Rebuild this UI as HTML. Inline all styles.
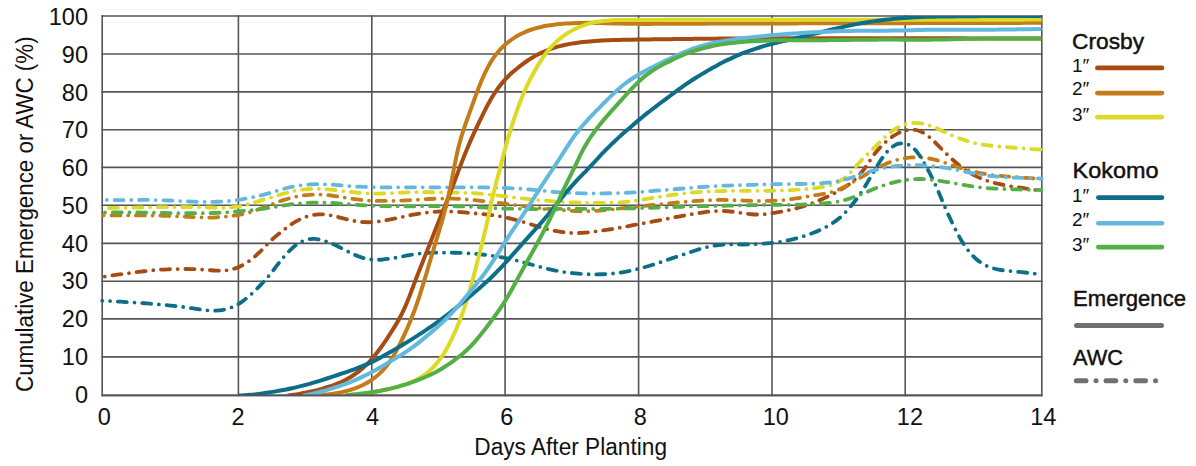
<!DOCTYPE html>
<html><head><meta charset="utf-8"><style>
html,body{margin:0;padding:0;background:#fff;}
body{width:1196px;height:466px;overflow:hidden;}
svg{display:block;}
</style></head><body>
<svg width="1196" height="466" viewBox="0 0 1196 466">
<rect width="1196" height="466" fill="#fff"/>
<g stroke="#555" stroke-width="1.6" stroke-linecap="square"><line x1="102.2" y1="395.40" x2="1041.8" y2="395.40"/><line x1="102.2" y1="356.90" x2="1041.8" y2="356.90"/><line x1="102.2" y1="318.90" x2="1041.8" y2="318.90"/><line x1="102.2" y1="281.20" x2="1041.8" y2="281.20"/><line x1="102.2" y1="243.40" x2="1041.8" y2="243.40"/><line x1="102.2" y1="205.30" x2="1041.8" y2="205.30"/><line x1="102.2" y1="167.40" x2="1041.8" y2="167.40"/><line x1="102.2" y1="129.70" x2="1041.8" y2="129.70"/><line x1="102.2" y1="91.90" x2="1041.8" y2="91.90"/><line x1="102.2" y1="54.00" x2="1041.8" y2="54.00"/><line x1="102.2" y1="16.00" x2="1041.8" y2="16.00"/><line x1="102.20" y1="16.00" x2="102.20" y2="395.40"/><line x1="238.40" y1="16.00" x2="238.40" y2="395.40"/><line x1="371.80" y1="16.00" x2="371.80" y2="395.40"/><line x1="505.10" y1="16.00" x2="505.10" y2="395.40"/><line x1="638.60" y1="16.00" x2="638.60" y2="395.40"/><line x1="772.00" y1="16.00" x2="772.00" y2="395.40"/><line x1="905.20" y1="16.00" x2="905.20" y2="395.40"/><line x1="1041.80" y1="16.00" x2="1041.80" y2="395.40"/></g><g fill="none" stroke-width="3.8" stroke-linecap="round" stroke-linejoin="round" stroke-dasharray="9.0 7.72 0 7.73"><path d="M102.20 277.00C103.19 276.84 106.15 276.33 108.14 276.02C110.12 275.70 112.10 275.40 114.09 275.11C116.07 274.82 118.06 274.55 120.05 274.29C122.04 274.02 124.03 273.76 126.02 273.51C128.01 273.25 130.00 273.00 131.99 272.74C133.98 272.49 135.98 272.23 137.97 271.98C139.96 271.74 141.95 271.49 143.94 271.25C145.94 271.02 147.93 270.79 149.93 270.59C151.92 270.39 153.92 270.20 155.92 270.04C157.92 269.89 159.93 269.75 161.93 269.64C163.93 269.52 165.94 269.43 167.94 269.35C169.95 269.26 171.95 269.20 173.96 269.15C175.97 269.10 177.97 269.06 179.98 269.04C181.99 269.01 183.99 269.00 186.00 269.01C188.01 269.02 190.02 269.03 192.02 269.08C194.03 269.13 196.03 269.20 198.04 269.30C200.04 269.40 202.04 269.54 204.05 269.68C206.05 269.82 208.05 270.02 210.05 270.16C212.05 270.31 214.05 270.48 216.06 270.56C218.06 270.64 220.07 270.70 222.07 270.63C224.08 270.55 226.09 270.41 228.07 270.11C230.05 269.80 232.03 269.38 233.94 268.81C235.86 268.24 237.75 267.52 239.57 266.69C241.40 265.87 243.16 264.89 244.88 263.86C246.60 262.83 248.26 261.68 249.88 260.50C251.49 259.32 253.07 258.06 254.59 256.76C256.12 255.46 257.60 254.10 259.04 252.70C260.49 251.31 261.87 249.86 263.27 248.41C264.66 246.97 266.01 245.49 267.43 244.06C268.84 242.64 270.26 241.22 271.73 239.86C273.20 238.49 274.72 237.17 276.25 235.88C277.78 234.58 279.35 233.33 280.92 232.08C282.50 230.84 284.08 229.61 285.69 228.41C287.30 227.21 288.92 226.02 290.58 224.89C292.24 223.77 293.92 222.67 295.66 221.66C297.39 220.65 299.17 219.70 300.99 218.86C302.80 218.02 304.67 217.25 306.57 216.63C308.48 216.00 310.43 215.48 312.39 215.10C314.36 214.73 316.37 214.48 318.37 214.38C320.36 214.27 322.39 214.32 324.38 214.47C326.38 214.61 328.37 214.91 330.35 215.26C332.32 215.61 334.28 216.08 336.23 216.55C338.18 217.02 340.11 217.57 342.05 218.08C343.99 218.58 345.93 219.12 347.88 219.59C349.83 220.06 351.79 220.52 353.76 220.89C355.73 221.25 357.72 221.57 359.71 221.79C361.70 222.01 363.71 222.16 365.71 222.21C367.72 222.27 369.73 222.23 371.73 222.13C373.73 222.02 375.73 221.82 377.73 221.59C379.72 221.35 381.70 221.03 383.68 220.70C385.66 220.37 387.63 219.99 389.60 219.61C391.57 219.24 393.54 218.83 395.51 218.43C397.47 218.02 399.43 217.59 401.39 217.17C403.36 216.75 405.31 216.30 407.28 215.88C409.24 215.46 411.20 215.04 413.17 214.66C415.14 214.28 417.11 213.91 419.10 213.59C421.08 213.27 423.06 212.99 425.06 212.75C427.05 212.50 429.05 212.30 431.04 212.12C433.04 211.95 435.05 211.81 437.05 211.70C439.05 211.60 441.06 211.51 443.07 211.48C445.07 211.44 447.08 211.43 449.09 211.48C451.09 211.52 453.10 211.61 455.10 211.72C457.11 211.84 459.11 212.00 461.11 212.17C463.11 212.34 465.10 212.53 467.10 212.71C469.10 212.90 471.10 213.09 473.10 213.27C475.10 213.45 477.10 213.62 479.09 213.81C481.09 213.99 483.09 214.15 485.09 214.36C487.09 214.56 489.08 214.76 491.07 215.01C493.07 215.26 495.06 215.53 497.04 215.84C499.02 216.16 501.00 216.50 502.97 216.89C504.94 217.27 506.90 217.69 508.85 218.14C510.81 218.60 512.76 219.08 514.70 219.59C516.64 220.10 518.57 220.64 520.50 221.19C522.43 221.75 524.35 222.33 526.27 222.91C528.19 223.49 530.11 224.09 532.02 224.69C533.94 225.28 535.85 225.89 537.77 226.48C539.69 227.06 541.61 227.65 543.55 228.19C545.48 228.72 547.42 229.24 549.37 229.70C551.32 230.17 553.29 230.58 555.26 230.95C557.23 231.33 559.22 231.65 561.20 231.93C563.19 232.21 565.18 232.45 567.18 232.63C569.18 232.81 571.18 232.95 573.19 233.01C575.19 233.07 577.20 233.07 579.21 233.00C581.21 232.94 583.22 232.79 585.22 232.62C587.22 232.45 589.21 232.22 591.20 231.98C593.20 231.75 595.19 231.49 597.18 231.22C599.17 230.96 601.15 230.68 603.14 230.39C605.13 230.11 607.11 229.81 609.09 229.50C611.07 229.18 613.06 228.86 615.03 228.52C617.01 228.19 618.99 227.84 620.96 227.48C622.94 227.12 624.91 226.75 626.88 226.37C628.85 226.00 630.82 225.61 632.79 225.23C634.76 224.85 636.73 224.47 638.71 224.10C640.68 223.73 642.65 223.37 644.63 223.02C646.60 222.66 648.58 222.32 650.56 221.97C652.54 221.62 654.51 221.28 656.49 220.92C658.46 220.55 660.43 220.17 662.40 219.78C664.37 219.40 666.33 218.98 668.30 218.59C670.27 218.19 672.23 217.78 674.20 217.39C676.17 217.00 678.14 216.62 680.11 216.26C682.09 215.89 684.06 215.54 686.04 215.19C688.02 214.85 690.00 214.51 691.98 214.18C693.96 213.86 695.94 213.53 697.92 213.22C699.90 212.91 701.88 212.59 703.87 212.32C705.86 212.04 707.85 211.77 709.84 211.56C711.84 211.35 713.84 211.17 715.84 211.07C717.85 210.97 719.86 210.93 721.86 210.96C723.87 210.99 725.88 211.10 727.88 211.25C729.88 211.40 731.87 211.63 733.86 211.88C735.85 212.12 737.84 212.44 739.82 212.72C741.81 213.01 743.79 213.33 745.78 213.59C747.77 213.85 749.77 214.11 751.76 214.26C753.76 214.40 755.77 214.49 757.78 214.49C759.78 214.48 761.79 214.39 763.79 214.24C765.79 214.09 767.79 213.85 769.78 213.59C771.77 213.33 773.75 213.02 775.73 212.69C777.71 212.36 779.68 211.99 781.65 211.61C783.62 211.22 785.59 210.82 787.55 210.39C789.51 209.96 791.47 209.51 793.41 209.03C795.36 208.55 797.31 208.05 799.24 207.50C801.17 206.96 803.09 206.38 805.00 205.76C806.91 205.15 808.81 204.49 810.69 203.80C812.58 203.11 814.45 202.39 816.31 201.64C818.17 200.89 820.02 200.11 821.86 199.31C823.70 198.50 825.53 197.67 827.34 196.82C829.16 195.96 830.96 195.08 832.75 194.16C834.53 193.24 836.31 192.30 838.06 191.32C839.80 190.33 841.54 189.32 843.24 188.25C844.93 187.18 846.61 186.08 848.24 184.90C849.86 183.73 851.46 182.50 852.98 181.19C854.50 179.89 855.97 178.51 857.36 177.07C858.76 175.64 860.09 174.12 861.37 172.58C862.64 171.03 863.84 169.42 865.02 167.79C866.20 166.17 867.31 164.50 868.44 162.84C869.57 161.18 870.65 159.49 871.81 157.85C872.96 156.20 874.11 154.55 875.34 152.97C876.58 151.39 877.87 149.85 879.21 148.36C880.56 146.88 881.96 145.43 883.41 144.05C884.86 142.66 886.36 141.32 887.91 140.05C889.46 138.79 891.06 137.56 892.73 136.44C894.39 135.33 896.11 134.27 897.90 133.37C899.69 132.47 901.55 131.66 903.45 131.06C905.36 130.47 907.35 129.99 909.33 129.81C911.31 129.62 913.38 129.63 915.33 129.94C917.29 130.25 919.26 130.87 921.08 131.66C922.91 132.45 924.64 133.54 926.28 134.67C927.93 135.81 929.46 137.14 930.96 138.46C932.47 139.78 933.90 141.19 935.34 142.60C936.77 144.00 938.15 145.46 939.56 146.89C940.96 148.32 942.35 149.77 943.77 151.19C945.19 152.61 946.63 154.01 948.08 155.39C949.53 156.78 950.99 158.16 952.47 159.51C953.95 160.87 955.44 162.22 956.96 163.52C958.49 164.83 960.02 166.12 961.62 167.34C963.22 168.55 964.86 169.71 966.54 170.81C968.22 171.90 969.95 172.93 971.70 173.90C973.45 174.88 975.25 175.79 977.06 176.64C978.87 177.50 980.72 178.30 982.58 179.04C984.45 179.78 986.33 180.47 988.24 181.10C990.14 181.73 992.07 182.30 994.01 182.82C995.94 183.34 997.90 183.81 999.86 184.23C1001.82 184.66 1003.79 185.04 1005.77 185.40C1007.74 185.76 1009.72 186.08 1011.70 186.40C1013.68 186.72 1015.67 187.02 1017.65 187.32C1019.64 187.63 1021.62 187.94 1023.60 188.24C1025.59 188.55 1027.57 188.87 1029.55 189.15C1031.54 189.44 1033.53 189.74 1035.52 189.96C1037.51 190.19 1040.52 190.42 1041.52 190.51" stroke="#A64B12" stroke-dashoffset="14.10"/><path d="M102.20 215.40C103.20 215.40 106.20 215.40 108.20 215.40C110.21 215.40 112.21 215.40 114.21 215.40C116.22 215.39 118.22 215.39 120.22 215.38C122.22 215.38 124.23 215.38 126.23 215.38C128.23 215.38 130.24 215.38 132.24 215.38C134.24 215.38 136.24 215.39 138.25 215.40C140.25 215.41 142.25 215.42 144.26 215.44C146.26 215.45 148.26 215.48 150.26 215.50C152.27 215.53 154.27 215.57 156.27 215.61C158.27 215.65 160.28 215.70 162.28 215.76C164.28 215.81 166.28 215.88 168.28 215.95C170.29 216.02 172.29 216.10 174.29 216.18C176.29 216.27 178.29 216.36 180.29 216.45C182.29 216.55 184.29 216.65 186.29 216.76C188.29 216.86 190.29 216.97 192.29 217.07C194.29 217.17 196.29 217.28 198.29 217.36C200.29 217.43 202.30 217.51 204.30 217.54C206.30 217.57 208.31 217.58 210.31 217.55C212.31 217.52 214.31 217.45 216.31 217.34C218.31 217.23 220.31 217.09 222.30 216.91C224.30 216.74 226.29 216.53 228.28 216.29C230.27 216.06 232.26 215.81 234.24 215.51C236.22 215.22 238.20 214.91 240.17 214.54C242.13 214.17 244.10 213.77 246.04 213.29C247.99 212.81 249.92 212.27 251.83 211.67C253.74 211.08 255.63 210.41 257.51 209.73C259.40 209.05 261.26 208.32 263.13 207.60C265.00 206.88 266.86 206.14 268.73 205.42C270.60 204.70 272.47 203.97 274.34 203.27C276.22 202.58 278.10 201.88 279.99 201.23C281.89 200.57 283.79 199.94 285.70 199.35C287.62 198.77 289.54 198.21 291.48 197.72C293.42 197.23 295.38 196.77 297.34 196.39C299.31 196.00 301.28 195.67 303.27 195.40C305.25 195.13 307.25 194.92 309.24 194.77C311.24 194.62 313.24 194.53 315.24 194.50C317.25 194.48 319.25 194.52 321.25 194.61C323.25 194.71 325.25 194.87 327.24 195.07C329.23 195.28 331.22 195.54 333.20 195.82C335.19 196.09 337.16 196.41 339.14 196.72C341.12 197.03 343.10 197.36 345.08 197.67C347.05 197.98 349.03 198.28 351.02 198.57C353.00 198.85 354.98 199.13 356.97 199.38C358.96 199.63 360.95 199.87 362.94 200.07C364.93 200.27 366.93 200.45 368.92 200.58C370.92 200.71 372.93 200.79 374.93 200.84C376.93 200.90 378.93 200.92 380.94 200.93C382.94 200.93 384.94 200.92 386.94 200.90C388.95 200.88 390.95 200.85 392.95 200.81C394.95 200.76 396.96 200.70 398.96 200.63C400.96 200.55 402.96 200.46 404.96 200.37C406.96 200.27 408.96 200.16 410.96 200.05C412.96 199.94 414.96 199.82 416.96 199.70C418.96 199.59 420.96 199.46 422.96 199.35C424.96 199.24 426.96 199.12 428.96 199.02C430.96 198.92 432.96 198.82 434.96 198.74C436.96 198.67 438.96 198.60 440.96 198.56C442.97 198.53 444.97 198.51 446.97 198.52C448.98 198.54 450.98 198.58 452.98 198.64C454.98 198.71 456.98 198.81 458.98 198.93C460.98 199.05 462.98 199.19 464.97 199.35C466.97 199.51 468.97 199.69 470.96 199.87C472.95 200.06 474.95 200.26 476.94 200.46C478.93 200.67 480.92 200.89 482.91 201.11C484.91 201.33 486.90 201.55 488.88 201.78C490.87 202.02 492.86 202.25 494.85 202.49C496.84 202.73 498.83 202.98 500.82 203.22C502.80 203.47 504.79 203.72 506.78 203.97C508.76 204.22 510.75 204.48 512.74 204.74C514.72 204.99 516.71 205.26 518.69 205.52C520.68 205.78 522.67 206.04 524.65 206.29C526.64 206.55 528.63 206.81 530.61 207.05C532.60 207.29 534.59 207.53 536.58 207.75C538.57 207.97 540.56 208.18 542.56 208.38C544.55 208.58 546.54 208.76 548.54 208.93C550.53 209.11 552.53 209.27 554.53 209.44C556.52 209.61 558.52 209.78 560.51 209.94C562.51 210.11 564.50 210.29 566.50 210.44C568.50 210.60 570.49 210.76 572.49 210.88C574.49 211.00 576.49 211.11 578.49 211.18C580.50 211.25 582.50 211.28 584.50 211.28C586.50 211.27 588.51 211.23 590.51 211.16C592.51 211.09 594.51 210.98 596.51 210.85C598.51 210.72 600.51 210.57 602.50 210.39C604.50 210.22 606.49 210.02 608.48 209.82C610.47 209.61 612.46 209.39 614.45 209.16C616.44 208.94 618.43 208.70 620.42 208.47C622.41 208.24 624.40 208.01 626.39 207.78C628.38 207.55 630.37 207.33 632.36 207.12C634.35 206.90 636.35 206.69 638.34 206.48C640.33 206.28 642.32 206.07 644.32 205.87C646.31 205.67 648.30 205.46 650.29 205.26C652.29 205.05 654.28 204.85 656.27 204.64C658.26 204.43 660.25 204.22 662.25 204.02C664.24 203.81 666.23 203.60 668.22 203.40C670.22 203.20 672.21 203.00 674.20 202.80C676.19 202.61 678.19 202.42 680.18 202.23C682.18 202.05 684.17 201.87 686.17 201.70C688.16 201.54 690.16 201.37 692.16 201.22C694.15 201.07 696.15 200.92 698.15 200.79C700.15 200.66 702.15 200.53 704.15 200.43C706.15 200.32 708.15 200.23 710.15 200.15C712.15 200.08 714.15 200.02 716.16 199.99C718.16 199.96 720.16 199.95 722.16 199.95C724.17 199.96 726.17 200.00 728.17 200.04C730.17 200.09 732.18 200.16 734.18 200.22C736.18 200.29 738.18 200.37 740.18 200.44C742.18 200.52 744.19 200.60 746.19 200.66C748.19 200.73 750.19 200.79 752.19 200.84C754.20 200.89 756.20 200.93 758.20 200.95C760.20 200.97 762.21 200.97 764.21 200.95C766.21 200.93 768.21 200.90 770.22 200.83C772.22 200.77 774.22 200.68 776.22 200.57C778.22 200.45 780.22 200.31 782.21 200.14C784.21 199.96 786.20 199.76 788.19 199.52C790.18 199.28 792.16 199.01 794.14 198.72C796.12 198.42 798.10 198.09 800.08 197.77C802.05 197.44 804.02 197.08 806.00 196.75C807.97 196.41 809.95 196.08 811.92 195.76C813.90 195.43 815.88 195.14 817.86 194.82C819.84 194.50 821.82 194.21 823.79 193.84C825.75 193.47 827.72 193.08 829.66 192.59C831.60 192.09 833.53 191.53 835.42 190.87C837.30 190.20 839.16 189.43 840.98 188.60C842.80 187.77 844.58 186.84 846.34 185.90C848.11 184.95 849.84 183.94 851.57 182.93C853.30 181.92 855.01 180.88 856.73 179.85C858.44 178.82 860.15 177.77 861.88 176.76C863.60 175.74 865.34 174.73 867.08 173.75C868.83 172.77 870.59 171.81 872.35 170.86C874.11 169.91 875.89 168.98 877.66 168.06C879.44 167.14 881.21 166.20 883.01 165.32C884.81 164.45 886.62 163.57 888.47 162.80C890.31 162.03 892.19 161.31 894.09 160.70C896.00 160.09 897.94 159.57 899.89 159.13C901.84 158.69 903.82 158.33 905.80 158.05C907.78 157.77 909.78 157.57 911.78 157.45C913.77 157.34 915.78 157.30 917.78 157.35C919.78 157.40 921.79 157.54 923.78 157.76C925.77 157.97 927.75 158.28 929.72 158.64C931.69 159.01 933.64 159.46 935.58 159.95C937.52 160.44 939.45 161.00 941.36 161.59C943.28 162.17 945.18 162.81 947.07 163.45C948.97 164.08 950.86 164.75 952.76 165.39C954.66 166.03 956.55 166.68 958.46 167.29C960.37 167.90 962.28 168.50 964.20 169.05C966.13 169.61 968.06 170.14 970.00 170.63C971.94 171.13 973.89 171.60 975.84 172.05C977.79 172.49 979.75 172.91 981.72 173.29C983.68 173.68 985.66 174.03 987.63 174.35C989.61 174.66 991.60 174.94 993.58 175.19C995.57 175.44 997.56 175.65 999.55 175.85C1001.55 176.05 1003.54 176.22 1005.54 176.39C1007.53 176.56 1009.53 176.71 1011.53 176.87C1013.52 177.02 1015.52 177.17 1017.52 177.32C1019.52 177.46 1021.52 177.61 1023.51 177.74C1025.51 177.88 1027.51 178.02 1029.51 178.15C1031.51 178.28 1033.51 178.40 1035.50 178.53C1037.50 178.66 1040.50 178.84 1041.50 178.90" stroke="#C47C18" stroke-dashoffset="15.20"/><path d="M102.19 208.00C103.20 208.00 106.21 208.02 108.22 208.01C110.23 208.00 112.24 207.98 114.25 207.95C116.25 207.92 118.26 207.88 120.27 207.84C122.28 207.81 124.29 207.76 126.29 207.72C128.30 207.68 130.31 207.64 132.32 207.60C134.33 207.56 136.33 207.53 138.34 207.49C140.35 207.46 142.36 207.43 144.37 207.40C146.38 207.37 148.38 207.34 150.39 207.31C152.40 207.29 154.41 207.26 156.42 207.24C158.43 207.21 160.43 207.19 162.44 207.17C164.45 207.14 166.46 207.12 168.47 207.10C170.48 207.07 172.49 207.05 174.49 207.04C176.50 207.03 178.51 207.01 180.52 207.01C182.53 207.01 184.54 207.01 186.54 207.03C188.55 207.04 190.56 207.06 192.57 207.09C194.58 207.11 196.59 207.15 198.59 207.19C200.60 207.23 202.61 207.28 204.62 207.33C206.63 207.38 208.63 207.44 210.64 207.49C212.65 207.54 214.66 207.59 216.67 207.62C218.67 207.65 220.68 207.68 222.69 207.65C224.70 207.63 226.71 207.58 228.71 207.47C230.72 207.36 232.72 207.21 234.72 206.98C236.71 206.75 238.70 206.45 240.68 206.09C242.65 205.72 244.61 205.26 246.55 204.77C248.50 204.27 250.42 203.68 252.35 203.11C254.27 202.54 256.18 201.92 258.10 201.33C260.02 200.74 261.94 200.15 263.87 199.57C265.79 199.00 267.72 198.43 269.64 197.86C271.57 197.29 273.50 196.72 275.42 196.14C277.34 195.57 279.26 194.97 281.19 194.40C283.11 193.83 285.03 193.24 286.97 192.71C288.91 192.19 290.85 191.67 292.81 191.24C294.77 190.81 296.75 190.44 298.74 190.13C300.72 189.82 302.72 189.58 304.71 189.39C306.71 189.20 308.72 189.07 310.73 188.99C312.73 188.90 314.74 188.87 316.75 188.88C318.76 188.90 320.77 188.97 322.77 189.07C324.78 189.17 326.78 189.32 328.78 189.48C330.78 189.65 332.78 189.85 334.78 190.06C336.78 190.27 338.77 190.50 340.77 190.74C342.76 190.97 344.75 191.23 346.75 191.47C348.74 191.71 350.74 191.96 352.73 192.18C354.73 192.40 356.73 192.62 358.73 192.80C360.73 192.98 362.73 193.15 364.73 193.28C366.74 193.40 368.74 193.50 370.75 193.56C372.76 193.63 374.77 193.65 376.78 193.64C378.78 193.64 380.79 193.59 382.80 193.52C384.81 193.46 386.81 193.35 388.82 193.25C390.82 193.14 392.83 193.01 394.83 192.90C396.84 192.79 398.84 192.67 400.85 192.57C402.86 192.48 404.86 192.40 406.87 192.35C408.88 192.29 410.89 192.25 412.90 192.22C414.90 192.19 416.91 192.18 418.92 192.18C420.93 192.17 422.94 192.18 424.95 192.19C426.96 192.19 428.96 192.21 430.97 192.23C432.98 192.25 434.99 192.27 437.00 192.29C439.01 192.32 441.01 192.34 443.02 192.37C445.03 192.40 447.04 192.43 449.05 192.47C451.06 192.50 453.06 192.53 455.07 192.57C457.08 192.62 459.09 192.66 461.10 192.72C463.10 192.78 465.11 192.84 467.12 192.92C469.12 193.01 471.13 193.10 473.14 193.22C475.14 193.34 477.15 193.48 479.15 193.63C481.15 193.79 483.15 193.96 485.15 194.15C487.15 194.34 489.15 194.55 491.15 194.76C493.14 194.97 495.14 195.20 497.13 195.43C499.13 195.65 501.12 195.89 503.12 196.13C505.11 196.36 507.11 196.61 509.10 196.84C511.10 197.08 513.09 197.32 515.08 197.56C517.08 197.79 519.07 198.02 521.07 198.25C523.07 198.48 525.06 198.70 527.06 198.91C529.06 199.12 531.05 199.33 533.05 199.53C535.05 199.73 537.05 199.92 539.05 200.10C541.05 200.28 543.05 200.46 545.05 200.62C547.06 200.79 549.06 200.94 551.06 201.09C553.06 201.24 555.07 201.38 557.07 201.52C559.08 201.65 561.08 201.78 563.09 201.90C565.09 202.01 567.10 202.12 569.10 202.22C571.11 202.33 573.11 202.42 575.12 202.50C577.13 202.58 579.14 202.66 581.14 202.72C583.15 202.78 585.16 202.83 587.17 202.87C589.17 202.91 591.18 202.93 593.19 202.95C595.20 202.96 597.21 202.97 599.22 202.96C601.23 202.95 603.23 202.92 605.24 202.89C607.25 202.85 609.26 202.80 611.27 202.74C613.27 202.67 615.28 202.59 617.29 202.48C619.29 202.37 621.30 202.25 623.30 202.09C625.30 201.93 627.30 201.74 629.30 201.52C631.29 201.30 633.28 201.04 635.27 200.76C637.26 200.48 639.25 200.16 641.23 199.85C643.21 199.53 645.19 199.20 647.18 198.87C649.16 198.54 651.14 198.21 653.12 197.88C655.10 197.56 657.08 197.23 659.07 196.91C661.05 196.60 663.03 196.28 665.02 195.98C667.00 195.67 668.99 195.37 670.98 195.08C672.97 194.80 674.96 194.52 676.95 194.25C678.94 193.99 680.93 193.73 682.92 193.50C684.92 193.26 686.92 193.04 688.91 192.84C690.91 192.64 692.91 192.46 694.91 192.30C696.92 192.13 698.92 191.99 700.93 191.87C702.93 191.74 704.94 191.63 706.94 191.54C708.95 191.44 710.95 191.37 712.96 191.29C714.97 191.22 716.98 191.17 718.98 191.11C720.99 191.06 723.00 191.02 725.01 190.98C727.02 190.95 729.03 190.92 731.03 190.89C733.04 190.87 735.05 190.85 737.06 190.84C739.07 190.82 741.08 190.82 743.08 190.82C745.09 190.81 747.10 190.82 749.11 190.82C751.12 190.82 753.13 190.83 755.14 190.83C757.14 190.83 759.15 190.84 761.16 190.83C763.17 190.82 765.18 190.81 767.19 190.79C769.20 190.77 771.20 190.74 773.21 190.70C775.22 190.66 777.23 190.61 779.24 190.55C781.24 190.49 783.25 190.42 785.26 190.34C787.26 190.26 789.27 190.16 791.28 190.06C793.28 189.95 795.29 189.84 797.29 189.70C799.30 189.57 801.30 189.43 803.30 189.27C805.30 189.11 807.30 188.93 809.30 188.73C811.30 188.53 813.30 188.32 815.29 188.07C817.28 187.81 819.28 187.55 821.26 187.21C823.23 186.87 825.22 186.51 827.16 186.02C829.11 185.54 831.05 184.99 832.93 184.30C834.81 183.60 836.67 182.80 838.44 181.86C840.21 180.93 841.93 179.86 843.55 178.68C845.17 177.51 846.71 176.19 848.17 174.83C849.64 173.46 850.99 171.96 852.34 170.47C853.69 168.99 854.95 167.43 856.28 165.92C857.61 164.41 858.93 162.90 860.31 161.44C861.68 159.97 863.11 158.56 864.54 157.15C865.97 155.74 867.45 154.37 868.89 152.98C870.33 151.58 871.78 150.19 873.21 148.77C874.63 147.36 876.03 145.92 877.45 144.49C878.86 143.07 880.26 141.62 881.70 140.22C883.13 138.82 884.58 137.42 886.08 136.09C887.58 134.75 889.10 133.44 890.69 132.21C892.28 130.99 893.91 129.79 895.61 128.74C897.32 127.69 899.08 126.69 900.92 125.89C902.75 125.09 904.67 124.42 906.61 123.94C908.55 123.47 910.57 123.17 912.56 123.04C914.56 122.92 916.59 122.99 918.58 123.18C920.57 123.36 922.56 123.73 924.52 124.17C926.47 124.61 928.41 125.19 930.31 125.82C932.21 126.46 934.08 127.20 935.94 127.98C937.79 128.75 939.60 129.62 941.42 130.46C943.25 131.31 945.04 132.20 946.87 133.04C948.70 133.88 950.53 134.70 952.38 135.48C954.23 136.26 956.09 137.02 957.97 137.73C959.84 138.45 961.73 139.15 963.63 139.80C965.53 140.45 967.44 141.07 969.37 141.63C971.29 142.19 973.24 142.71 975.19 143.16C977.15 143.61 979.12 143.99 981.10 144.34C983.08 144.68 985.07 144.95 987.06 145.22C989.05 145.48 991.05 145.69 993.05 145.91C995.05 146.12 997.05 146.31 999.05 146.49C1001.05 146.68 1003.05 146.85 1005.05 147.01C1007.05 147.18 1009.05 147.34 1011.05 147.50C1013.06 147.66 1015.06 147.82 1017.06 147.97C1019.06 148.13 1021.07 148.28 1023.07 148.42C1025.07 148.57 1027.08 148.72 1029.08 148.86C1031.08 149.01 1033.09 149.15 1035.09 149.29C1037.09 149.43 1040.10 149.63 1041.10 149.70" stroke="#DCDA26" stroke-dashoffset="17.70"/><path d="M102.19 300.80C103.19 300.84 106.20 300.93 108.20 301.02C110.20 301.12 112.20 301.23 114.20 301.35C116.21 301.47 118.21 301.59 120.21 301.72C122.21 301.84 124.21 301.97 126.21 302.09C128.21 302.21 130.21 302.34 132.21 302.46C134.21 302.59 136.22 302.71 138.22 302.84C140.22 302.97 142.22 303.10 144.22 303.25C146.22 303.39 148.21 303.55 150.21 303.71C152.21 303.87 154.21 304.05 156.20 304.23C158.20 304.40 160.20 304.59 162.19 304.78C164.19 304.96 166.19 305.15 168.18 305.35C170.18 305.54 172.17 305.74 174.16 305.95C176.16 306.16 178.15 306.37 180.14 306.61C182.13 306.85 184.12 307.10 186.11 307.37C188.09 307.64 190.08 307.94 192.06 308.23C194.04 308.53 196.02 308.85 198.00 309.14C199.99 309.43 201.97 309.74 203.96 309.97C205.95 310.20 207.95 310.42 209.95 310.53C211.95 310.63 213.96 310.69 215.96 310.61C217.96 310.53 219.97 310.36 221.95 310.05C223.92 309.74 225.89 309.31 227.81 308.74C229.73 308.17 231.61 307.45 233.44 306.63C235.26 305.81 237.03 304.84 238.75 303.81C240.46 302.78 242.11 301.63 243.73 300.44C245.34 299.26 246.90 297.99 248.43 296.70C249.96 295.41 251.45 294.06 252.91 292.69C254.38 291.32 255.80 289.91 257.22 288.49C258.63 287.07 260.02 285.62 261.40 284.16C262.77 282.71 264.13 281.23 265.46 279.74C266.80 278.24 268.12 276.73 269.39 275.18C270.67 273.64 271.90 272.06 273.13 270.47C274.37 268.89 275.55 267.28 276.78 265.69C278.00 264.10 279.21 262.50 280.47 260.94C281.72 259.38 283.00 257.83 284.33 256.33C285.65 254.82 287.00 253.34 288.41 251.91C289.82 250.48 291.25 249.08 292.76 247.76C294.27 246.45 295.82 245.15 297.48 244.03C299.13 242.92 300.87 241.86 302.70 241.07C304.52 240.28 306.47 239.65 308.43 239.29C310.38 238.93 312.43 238.83 314.42 238.91C316.41 238.98 318.41 239.31 320.37 239.72C322.32 240.13 324.25 240.73 326.15 241.37C328.05 242.00 329.91 242.75 331.76 243.53C333.61 244.31 335.42 245.16 337.23 246.03C339.03 246.90 340.81 247.82 342.60 248.74C344.38 249.65 346.15 250.61 347.93 251.52C349.72 252.43 351.50 253.36 353.32 254.20C355.14 255.03 356.97 255.86 358.85 256.56C360.72 257.25 362.64 257.88 364.58 258.36C366.52 258.84 368.51 259.20 370.49 259.44C372.48 259.68 374.49 259.77 376.49 259.79C378.49 259.81 380.50 259.69 382.50 259.54C384.50 259.39 386.49 259.14 388.48 258.87C390.46 258.60 392.44 258.27 394.42 257.93C396.39 257.59 398.36 257.21 400.33 256.83C402.30 256.46 404.26 256.06 406.23 255.69C408.20 255.32 410.17 254.95 412.15 254.62C414.13 254.30 416.11 254.00 418.10 253.75C420.09 253.51 422.09 253.30 424.09 253.15C426.08 252.99 428.09 252.89 430.09 252.81C432.09 252.73 434.10 252.70 436.10 252.68C438.11 252.65 440.11 252.65 442.12 252.65C444.12 252.65 446.13 252.66 448.13 252.68C450.14 252.70 452.14 252.72 454.15 252.76C456.15 252.81 458.15 252.86 460.16 252.93C462.16 253.01 464.16 253.10 466.16 253.21C468.17 253.32 470.17 253.45 472.17 253.60C474.16 253.76 476.16 253.93 478.16 254.12C480.15 254.31 482.15 254.52 484.14 254.76C486.13 254.99 488.12 255.24 490.11 255.50C492.09 255.77 494.08 256.06 496.06 256.37C498.04 256.67 500.02 257.00 501.99 257.35C503.96 257.71 505.93 258.09 507.89 258.51C509.85 258.92 511.81 259.37 513.75 259.85C515.70 260.32 517.64 260.84 519.58 261.35C521.52 261.86 523.45 262.39 525.38 262.92C527.32 263.45 529.25 263.98 531.19 264.50C533.12 265.03 535.06 265.55 537.00 266.06C538.93 266.57 540.87 267.09 542.81 267.58C544.76 268.08 546.70 268.57 548.65 269.03C550.60 269.48 552.56 269.93 554.52 270.33C556.49 270.73 558.46 271.10 560.43 271.43C562.41 271.77 564.40 272.06 566.38 272.33C568.37 272.60 570.36 272.83 572.35 273.05C574.35 273.26 576.34 273.44 578.34 273.60C580.34 273.77 582.34 273.91 584.34 274.02C586.34 274.13 588.35 274.23 590.35 274.29C592.35 274.35 594.36 274.38 596.36 274.37C598.37 274.37 600.37 274.33 602.37 274.25C604.38 274.18 606.38 274.06 608.38 273.91C610.38 273.76 612.37 273.58 614.37 273.35C616.36 273.12 618.35 272.86 620.33 272.56C622.31 272.26 624.29 271.93 626.26 271.56C628.23 271.19 630.19 270.79 632.15 270.36C634.11 269.93 636.06 269.47 638.01 268.99C639.95 268.50 641.89 267.99 643.82 267.46C645.76 266.92 647.68 266.36 649.60 265.78C651.52 265.20 653.43 264.59 655.33 263.97C657.24 263.35 659.14 262.70 661.03 262.05C662.93 261.41 664.83 260.75 666.72 260.10C668.62 259.45 670.52 258.80 672.41 258.16C674.31 257.52 676.22 256.89 678.12 256.25C680.02 255.62 681.92 254.99 683.82 254.35C685.72 253.71 687.62 253.07 689.52 252.43C691.42 251.79 693.32 251.13 695.22 250.51C697.13 249.88 699.03 249.25 700.95 248.69C702.88 248.12 704.81 247.57 706.75 247.10C708.70 246.63 710.67 246.21 712.64 245.86C714.61 245.52 716.60 245.24 718.59 245.02C720.58 244.81 722.59 244.67 724.59 244.57C726.59 244.47 728.60 244.45 730.60 244.43C732.61 244.41 734.61 244.44 736.62 244.45C738.62 244.46 740.62 244.49 742.63 244.49C744.63 244.49 746.64 244.48 748.64 244.44C750.65 244.40 752.65 244.34 754.65 244.25C756.66 244.16 758.66 244.05 760.66 243.91C762.66 243.76 764.66 243.60 766.65 243.41C768.65 243.22 770.64 243.01 772.63 242.77C774.62 242.53 776.61 242.28 778.60 241.99C780.58 241.70 782.56 241.38 784.53 241.02C786.50 240.66 788.47 240.26 790.42 239.83C792.38 239.39 794.33 238.91 796.27 238.39C798.20 237.88 800.13 237.32 802.04 236.73C803.96 236.14 805.86 235.51 807.76 234.85C809.65 234.18 811.53 233.48 813.39 232.75C815.25 232.01 817.11 231.24 818.94 230.42C820.77 229.60 822.58 228.75 824.37 227.84C826.15 226.93 827.92 225.97 829.64 224.95C831.37 223.93 833.07 222.85 834.70 221.70C836.34 220.54 837.93 219.31 839.45 218.02C840.98 216.72 842.44 215.34 843.86 213.92C845.28 212.51 846.63 211.03 847.97 209.54C849.30 208.04 850.59 206.51 851.87 204.96C853.14 203.41 854.39 201.84 855.61 200.25C856.83 198.66 858.04 197.06 859.20 195.42C860.36 193.79 861.49 192.13 862.58 190.45C863.66 188.76 864.68 187.04 865.71 185.31C866.73 183.59 867.72 181.85 868.73 180.12C869.74 178.38 870.74 176.64 871.75 174.92C872.77 173.19 873.80 171.47 874.83 169.75C875.86 168.03 876.89 166.31 877.95 164.61C879.01 162.90 880.06 161.20 881.19 159.54C882.31 157.88 883.44 156.22 884.69 154.65C885.93 153.08 887.21 151.51 888.63 150.11C890.06 148.72 891.57 147.33 893.24 146.26C894.91 145.20 896.76 144.19 898.66 143.71C900.55 143.23 902.69 143.08 904.61 143.39C906.53 143.70 908.49 144.55 910.18 145.55C911.88 146.56 913.38 147.99 914.77 149.41C916.17 150.83 917.38 152.46 918.57 154.07C919.76 155.68 920.82 157.39 921.88 159.09C922.95 160.79 923.95 162.53 924.94 164.27C925.94 166.01 926.90 167.77 927.84 169.54C928.79 171.30 929.71 173.08 930.62 174.87C931.53 176.66 932.42 178.45 933.29 180.26C934.16 182.07 935.01 183.88 935.84 185.71C936.66 187.53 937.47 189.37 938.26 191.21C939.05 193.06 939.80 194.92 940.57 196.77C941.34 198.62 942.09 200.48 942.87 202.32C943.65 204.17 944.44 206.01 945.26 207.84C946.07 209.68 946.90 211.50 947.74 213.32C948.58 215.14 949.43 216.95 950.29 218.77C951.14 220.58 952.00 222.39 952.87 224.20C953.74 226.00 954.62 227.81 955.52 229.60C956.43 231.39 957.34 233.17 958.30 234.93C959.26 236.69 960.23 238.45 961.26 240.16C962.29 241.88 963.35 243.59 964.47 245.25C965.59 246.91 966.75 248.55 967.98 250.13C969.21 251.71 970.49 253.27 971.85 254.73C973.21 256.20 974.63 257.63 976.14 258.95C977.65 260.26 979.24 261.51 980.90 262.62C982.56 263.73 984.31 264.74 986.11 265.61C987.91 266.48 989.79 267.22 991.69 267.85C993.59 268.47 995.54 268.95 997.50 269.37C999.46 269.78 1001.45 270.06 1003.44 270.33C1005.42 270.60 1007.42 270.77 1009.42 270.97C1011.41 271.17 1013.41 271.33 1015.41 271.52C1017.40 271.71 1019.40 271.91 1021.39 272.12C1023.39 272.33 1025.38 272.56 1027.37 272.79C1029.36 273.03 1031.35 273.28 1033.34 273.53C1035.33 273.78 1038.31 274.17 1039.30 274.30" stroke="#0D6E88" stroke-dashoffset="8.80"/><path d="M102.20 199.80C103.20 199.83 106.21 199.91 108.21 199.95C110.22 199.99 112.23 200.03 114.23 200.05C116.24 200.07 118.25 200.07 120.25 200.07C122.26 200.07 124.27 200.06 126.27 200.05C128.28 200.04 130.29 200.02 132.29 200.01C134.30 200.00 136.30 199.99 138.31 199.98C140.32 199.97 142.32 199.97 144.33 199.97C146.34 199.97 148.34 199.97 150.35 199.99C152.36 200.01 154.36 200.04 156.37 200.09C158.37 200.13 160.38 200.19 162.39 200.26C164.39 200.32 166.40 200.41 168.40 200.49C170.41 200.57 172.41 200.67 174.41 200.76C176.42 200.85 178.42 200.95 180.43 201.05C182.43 201.15 184.43 201.25 186.44 201.35C188.44 201.44 190.45 201.54 192.45 201.62C194.46 201.71 196.46 201.78 198.47 201.84C200.47 201.89 202.48 201.93 204.49 201.94C206.49 201.96 208.50 201.95 210.51 201.92C212.51 201.88 214.52 201.83 216.52 201.76C218.53 201.68 220.53 201.59 222.54 201.47C224.54 201.34 226.54 201.20 228.54 201.02C230.54 200.84 232.53 200.63 234.52 200.38C236.51 200.14 238.50 199.85 240.48 199.54C242.47 199.23 244.44 198.88 246.41 198.52C248.39 198.15 250.35 197.75 252.32 197.34C254.28 196.93 256.24 196.51 258.20 196.05C260.15 195.60 262.10 195.13 264.05 194.63C265.99 194.12 267.92 193.58 269.85 193.03C271.78 192.48 273.70 191.89 275.62 191.31C277.54 190.74 279.46 190.14 281.39 189.59C283.31 189.04 285.24 188.48 287.19 187.99C289.13 187.50 291.09 187.03 293.05 186.63C295.02 186.23 297.00 185.88 298.98 185.58C300.96 185.29 302.96 185.05 304.95 184.85C306.95 184.65 308.95 184.51 310.96 184.40C312.96 184.30 314.97 184.24 316.97 184.21C318.98 184.18 320.99 184.20 322.99 184.24C325.00 184.28 327.00 184.36 329.01 184.46C331.01 184.56 333.01 184.70 335.01 184.85C337.01 184.99 339.01 185.17 341.01 185.34C343.01 185.51 345.01 185.70 347.01 185.86C349.01 186.02 351.01 186.18 353.01 186.31C355.01 186.45 357.02 186.56 359.02 186.66C361.03 186.77 363.03 186.86 365.03 186.94C367.04 187.02 369.04 187.09 371.05 187.14C373.06 187.20 375.06 187.24 377.07 187.27C379.07 187.30 381.08 187.32 383.09 187.32C385.09 187.33 387.10 187.33 389.11 187.33C391.11 187.33 393.12 187.32 395.13 187.32C397.13 187.31 399.14 187.31 401.15 187.30C403.15 187.30 405.16 187.30 407.17 187.30C409.17 187.30 411.18 187.30 413.19 187.30C415.19 187.30 417.20 187.30 419.20 187.30C421.21 187.30 423.22 187.30 425.22 187.30C427.23 187.30 429.24 187.30 431.24 187.30C433.25 187.30 435.26 187.30 437.26 187.30C439.27 187.30 441.28 187.30 443.28 187.30C445.29 187.30 447.30 187.30 449.30 187.29C451.31 187.29 453.32 187.29 455.32 187.28C457.33 187.28 459.33 187.28 461.34 187.28C463.35 187.28 465.35 187.28 467.36 187.29C469.37 187.29 471.37 187.30 473.38 187.31C475.39 187.32 477.39 187.34 479.40 187.36C481.41 187.38 483.41 187.40 485.42 187.43C487.43 187.46 489.43 187.50 491.44 187.54C493.44 187.58 495.45 187.63 497.46 187.69C499.46 187.74 501.47 187.80 503.47 187.88C505.48 187.95 507.48 188.03 509.49 188.12C511.49 188.21 513.49 188.31 515.50 188.42C517.50 188.54 519.50 188.67 521.51 188.81C523.51 188.95 525.51 189.10 527.51 189.27C529.51 189.43 531.50 189.62 533.50 189.80C535.50 189.99 537.50 190.19 539.49 190.39C541.49 190.60 543.48 190.81 545.48 191.02C547.48 191.23 549.47 191.45 551.47 191.65C553.46 191.84 555.46 192.04 557.46 192.21C559.46 192.38 561.46 192.54 563.46 192.66C565.46 192.79 567.47 192.89 569.47 192.98C571.48 193.06 573.48 193.12 575.49 193.18C577.49 193.23 579.50 193.26 581.51 193.29C583.51 193.33 585.52 193.35 587.53 193.36C589.53 193.38 591.54 193.39 593.55 193.39C595.55 193.39 597.56 193.39 599.57 193.38C601.57 193.37 603.58 193.36 605.58 193.34C607.59 193.31 609.60 193.28 611.60 193.24C613.61 193.20 615.62 193.15 617.62 193.09C619.63 193.04 621.63 192.97 623.64 192.89C625.64 192.81 627.65 192.72 629.65 192.61C631.65 192.51 633.66 192.39 635.66 192.27C637.66 192.14 639.66 192.00 641.67 191.85C643.67 191.71 645.67 191.56 647.67 191.40C649.67 191.25 651.67 191.08 653.67 190.92C655.67 190.76 657.67 190.60 659.67 190.44C661.67 190.28 663.67 190.12 665.67 189.96C667.67 189.80 669.67 189.65 671.67 189.48C673.67 189.32 675.67 189.16 677.67 188.99C679.67 188.83 681.67 188.66 683.67 188.49C685.67 188.32 687.67 188.15 689.66 187.98C691.66 187.81 693.66 187.64 695.66 187.47C697.66 187.31 699.66 187.15 701.66 186.99C703.66 186.84 705.66 186.69 707.67 186.55C709.67 186.41 711.67 186.28 713.67 186.16C715.68 186.05 717.68 185.94 719.69 185.85C721.69 185.76 723.69 185.69 725.70 185.62C727.71 185.55 729.71 185.50 731.72 185.45C733.72 185.39 735.73 185.34 737.73 185.29C739.74 185.23 741.75 185.18 743.75 185.11C745.76 185.05 747.76 184.98 749.77 184.91C751.77 184.84 753.78 184.76 755.78 184.69C757.79 184.61 759.79 184.54 761.80 184.47C763.80 184.41 765.81 184.35 767.82 184.30C769.82 184.24 771.83 184.20 773.83 184.17C775.84 184.13 777.85 184.11 779.85 184.09C781.86 184.07 783.87 184.05 785.87 184.04C787.88 184.03 789.88 184.03 791.89 184.02C793.90 184.02 795.90 184.02 797.91 184.01C799.92 184.00 801.92 183.99 803.93 183.96C805.94 183.93 807.94 183.90 809.95 183.84C811.95 183.79 813.96 183.72 815.96 183.61C817.97 183.51 819.97 183.39 821.97 183.23C823.97 183.06 825.97 182.88 827.96 182.64C829.95 182.40 831.94 182.13 833.92 181.81C835.90 181.49 837.88 181.12 839.84 180.70C841.80 180.28 843.75 179.80 845.69 179.29C847.63 178.77 849.55 178.20 851.47 177.62C853.39 177.03 855.29 176.39 857.20 175.76C859.10 175.13 860.99 174.46 862.90 173.83C864.80 173.20 866.70 172.55 868.62 171.96C870.54 171.37 872.47 170.81 874.40 170.29C876.34 169.76 878.29 169.28 880.24 168.82C882.20 168.37 884.16 167.95 886.13 167.57C888.10 167.19 890.08 166.85 892.06 166.56C894.05 166.27 896.04 166.02 898.04 165.82C900.03 165.63 902.03 165.48 904.04 165.36C906.04 165.25 908.05 165.18 910.05 165.15C912.06 165.11 914.07 165.12 916.07 165.15C918.08 165.18 920.08 165.25 922.09 165.34C924.09 165.43 926.10 165.55 928.10 165.69C930.10 165.84 932.10 166.02 934.09 166.23C936.09 166.44 938.08 166.69 940.07 166.96C942.05 167.24 944.04 167.55 946.02 167.87C948.00 168.20 949.97 168.56 951.94 168.93C953.91 169.31 955.88 169.71 957.84 170.11C959.81 170.52 961.77 170.95 963.73 171.37C965.69 171.79 967.65 172.23 969.62 172.63C971.58 173.04 973.55 173.44 975.52 173.80C977.50 174.16 979.48 174.49 981.46 174.79C983.44 175.09 985.43 175.36 987.42 175.60C989.42 175.84 991.41 176.05 993.41 176.23C995.41 176.42 997.41 176.58 999.41 176.73C1001.41 176.88 1003.41 177.00 1005.42 177.12C1007.42 177.24 1009.42 177.34 1011.43 177.44C1013.43 177.54 1015.44 177.62 1017.44 177.71C1019.44 177.79 1021.45 177.87 1023.45 177.95C1025.46 178.03 1027.46 178.10 1029.47 178.18C1031.48 178.25 1033.48 178.32 1035.49 178.39C1037.49 178.46 1040.50 178.57 1041.50 178.60" stroke="#63B8DD" stroke-dashoffset="12.10"/><path d="M102.20 212.50C103.20 212.50 106.21 212.50 108.21 212.50C110.22 212.50 112.22 212.50 114.23 212.49C116.24 212.49 118.24 212.48 120.25 212.48C122.25 212.47 124.26 212.46 126.26 212.46C128.27 212.46 130.28 212.46 132.28 212.47C134.29 212.47 136.29 212.48 138.30 212.50C140.30 212.52 142.31 212.54 144.31 212.57C146.32 212.60 148.32 212.64 150.33 212.68C152.34 212.72 154.34 212.76 156.35 212.80C158.35 212.85 160.36 212.89 162.36 212.93C164.37 212.97 166.37 213.00 168.38 213.03C170.38 213.06 172.39 213.09 174.39 213.11C176.40 213.13 178.40 213.15 180.41 213.17C182.42 213.18 184.42 213.19 186.43 213.21C188.43 213.22 190.44 213.23 192.44 213.23C194.45 213.24 196.45 213.25 198.46 213.24C200.47 213.24 202.47 213.23 204.48 213.21C206.48 213.18 208.49 213.15 210.49 213.10C212.50 213.05 214.50 212.99 216.51 212.91C218.51 212.82 220.51 212.72 222.52 212.61C224.52 212.49 226.52 212.36 228.52 212.22C230.52 212.08 232.52 211.92 234.52 211.76C236.52 211.60 238.52 211.44 240.51 211.26C242.51 211.08 244.51 210.89 246.50 210.69C248.50 210.49 250.50 210.28 252.49 210.06C254.48 209.83 256.47 209.59 258.46 209.33C260.45 209.08 262.44 208.81 264.42 208.52C266.41 208.24 268.39 207.94 270.37 207.63C272.35 207.32 274.33 206.99 276.31 206.66C278.29 206.34 280.27 206.00 282.25 205.68C284.23 205.36 286.21 205.05 288.19 204.77C290.18 204.48 292.17 204.22 294.16 203.99C296.15 203.76 298.15 203.56 300.15 203.38C302.14 203.20 304.14 203.05 306.15 202.93C308.15 202.81 310.15 202.72 312.16 202.65C314.16 202.59 316.17 202.56 318.17 202.56C320.18 202.55 322.18 202.59 324.19 202.64C326.19 202.70 328.20 202.79 330.20 202.89C332.20 203.00 334.20 203.13 336.20 203.27C338.21 203.41 340.20 203.56 342.20 203.72C344.20 203.87 346.20 204.04 348.20 204.21C350.20 204.37 352.20 204.54 354.20 204.69C356.20 204.85 358.20 205.00 360.20 205.13C362.20 205.27 364.20 205.39 366.21 205.49C368.21 205.59 370.21 205.68 372.22 205.75C374.22 205.83 376.23 205.89 378.23 205.95C380.23 206.01 382.24 206.06 384.24 206.11C386.25 206.16 388.25 206.20 390.26 206.24C392.27 206.28 394.27 206.31 396.28 206.33C398.28 206.35 400.29 206.36 402.29 206.36C404.30 206.36 406.30 206.35 408.31 206.33C410.32 206.31 412.32 206.28 414.33 206.26C416.33 206.23 418.34 206.20 420.34 206.17C422.35 206.14 424.35 206.11 426.36 206.09C428.36 206.07 430.37 206.05 432.38 206.04C434.38 206.03 436.39 206.03 438.39 206.03C440.40 206.03 442.40 206.04 444.41 206.06C446.41 206.07 448.42 206.10 450.43 206.13C452.43 206.16 454.44 206.20 456.44 206.24C458.45 206.29 460.45 206.35 462.45 206.42C464.46 206.49 466.46 206.57 468.47 206.66C470.47 206.75 472.47 206.86 474.48 206.97C476.48 207.08 478.48 207.21 480.48 207.33C482.48 207.46 484.48 207.59 486.49 207.71C488.49 207.84 490.49 207.96 492.49 208.06C494.50 208.17 496.50 208.26 498.50 208.34C500.51 208.42 502.51 208.49 504.52 208.54C506.52 208.60 508.53 208.64 510.53 208.68C512.54 208.72 514.54 208.75 516.55 208.78C518.55 208.81 520.56 208.84 522.56 208.87C524.57 208.90 526.57 208.94 528.58 208.96C530.59 208.99 532.59 209.02 534.60 209.03C536.60 209.05 538.61 209.06 540.61 209.06C542.62 209.06 544.62 209.05 546.63 209.03C548.64 209.01 550.64 208.98 552.65 208.95C554.65 208.92 556.66 208.89 558.66 208.86C560.67 208.84 562.67 208.81 564.68 208.80C566.68 208.78 568.69 208.77 570.70 208.77C572.70 208.77 574.71 208.77 576.71 208.77C578.72 208.78 580.72 208.79 582.73 208.79C584.73 208.80 586.74 208.81 588.75 208.82C590.75 208.82 592.76 208.83 594.76 208.83C596.77 208.84 598.77 208.84 600.78 208.83C602.79 208.83 604.79 208.82 606.80 208.80C608.80 208.78 610.81 208.76 612.81 208.73C614.82 208.70 616.82 208.66 618.83 208.62C620.83 208.58 622.84 208.54 624.84 208.49C626.85 208.44 628.85 208.39 630.86 208.34C632.86 208.29 634.87 208.23 636.87 208.18C638.88 208.12 640.88 208.06 642.89 208.00C644.89 207.95 646.90 207.89 648.90 207.83C650.91 207.76 652.91 207.70 654.92 207.64C656.92 207.57 658.93 207.51 660.93 207.44C662.93 207.38 664.94 207.31 666.94 207.24C668.95 207.18 670.95 207.11 672.96 207.04C674.96 206.97 676.97 206.91 678.97 206.84C680.97 206.77 682.98 206.71 684.98 206.64C686.99 206.58 688.99 206.52 691.00 206.46C693.00 206.40 695.01 206.34 697.01 206.29C699.02 206.23 701.02 206.18 703.03 206.13C705.03 206.09 707.04 206.04 709.04 206.00C711.05 205.96 713.05 205.92 715.06 205.89C717.06 205.85 719.07 205.82 721.07 205.79C723.08 205.75 725.08 205.72 727.09 205.69C729.10 205.66 731.10 205.63 733.11 205.59C735.11 205.56 737.12 205.52 739.12 205.48C741.13 205.44 743.13 205.39 745.14 205.35C747.14 205.30 749.15 205.24 751.15 205.19C753.16 205.14 755.16 205.09 757.17 205.04C759.17 204.99 761.18 204.95 763.18 204.91C765.19 204.88 767.19 204.85 769.20 204.83C771.20 204.82 773.21 204.81 775.22 204.81C777.22 204.80 779.23 204.81 781.23 204.81C783.24 204.81 785.24 204.81 787.25 204.80C789.25 204.79 791.26 204.78 793.27 204.76C795.27 204.73 797.28 204.69 799.28 204.64C801.29 204.59 803.29 204.53 805.30 204.46C807.30 204.39 809.30 204.31 811.31 204.22C813.31 204.12 815.31 204.03 817.32 203.91C819.32 203.79 821.32 203.67 823.32 203.51C825.32 203.35 827.32 203.17 829.31 202.94C831.30 202.71 833.29 202.45 835.27 202.12C837.25 201.79 839.22 201.41 841.17 200.96C843.12 200.50 845.06 199.98 846.99 199.41C848.91 198.84 850.81 198.21 852.70 197.54C854.59 196.88 856.47 196.15 858.33 195.42C860.20 194.69 862.05 193.91 863.90 193.15C865.76 192.38 867.60 191.59 869.45 190.82C871.30 190.05 873.15 189.27 875.02 188.53C876.88 187.79 878.75 187.06 880.64 186.39C882.53 185.71 884.42 185.06 886.34 184.46C888.25 183.86 890.18 183.31 892.12 182.81C894.06 182.30 896.02 181.85 897.98 181.45C899.95 181.04 901.92 180.68 903.90 180.36C905.88 180.05 907.87 179.77 909.86 179.56C911.86 179.34 913.86 179.17 915.86 179.08C917.86 178.99 919.87 178.97 921.87 179.02C923.88 179.07 925.88 179.21 927.88 179.38C929.88 179.55 931.87 179.79 933.86 180.03C935.85 180.28 937.84 180.57 939.82 180.86C941.80 181.16 943.78 181.47 945.76 181.80C947.74 182.12 949.72 182.47 951.69 182.81C953.67 183.16 955.64 183.52 957.62 183.87C959.59 184.23 961.56 184.59 963.54 184.93C965.52 185.27 967.49 185.62 969.47 185.93C971.45 186.24 973.44 186.54 975.43 186.80C977.41 187.07 979.41 187.31 981.40 187.52C983.39 187.74 985.39 187.92 987.39 188.08C989.39 188.24 991.39 188.38 993.39 188.50C995.39 188.62 997.40 188.71 999.40 188.80C1001.41 188.90 1003.41 188.97 1005.41 189.05C1007.42 189.12 1009.42 189.19 1011.43 189.26C1013.43 189.32 1015.44 189.39 1017.44 189.45C1019.45 189.51 1021.45 189.56 1023.45 189.61C1025.46 189.67 1027.46 189.71 1029.47 189.76C1031.48 189.80 1033.48 189.85 1035.49 189.89C1037.49 189.93 1040.50 189.98 1041.50 190.00" stroke="#54AF46" stroke-dashoffset="13.90"/></g><defs><clipPath id="pc"><rect x="102.2" y="16" width="939.6" height="379.4"/></clipPath></defs><g fill="none" stroke-width="4" stroke-linecap="butt" stroke-linejoin="round" clip-path="url(#pc)"><path d="M287.48 395.60C288.48 395.47 291.47 395.11 293.46 394.82C295.45 394.54 297.44 394.23 299.42 393.89C301.40 393.56 303.38 393.19 305.35 392.80C307.32 392.41 309.29 392.00 311.25 391.55C313.21 391.11 315.16 390.64 317.11 390.14C319.05 389.64 320.99 389.11 322.92 388.55C324.85 387.99 326.78 387.40 328.68 386.77C330.59 386.14 332.49 385.48 334.37 384.77C336.25 384.06 338.12 383.31 339.96 382.50C341.79 381.69 343.62 380.84 345.40 379.92C347.19 379.00 348.95 378.02 350.67 376.98C352.38 375.93 354.07 374.83 355.70 373.67C357.34 372.50 358.94 371.28 360.49 370.00C362.05 368.73 363.55 367.40 365.02 366.02C366.48 364.65 367.90 363.22 369.28 361.76C370.66 360.30 372.00 358.80 373.30 357.27C374.61 355.74 375.87 354.17 377.10 352.59C378.34 351.00 379.54 349.39 380.72 347.76C381.90 346.14 383.06 344.49 384.19 342.84C385.33 341.18 386.45 339.51 387.56 337.83C388.66 336.15 389.75 334.47 390.83 332.77C391.92 331.08 392.99 329.38 394.04 327.67C395.09 325.95 396.13 324.23 397.14 322.49C398.14 320.75 399.12 319.00 400.06 317.22C401.00 315.45 401.91 313.65 402.78 311.84C403.66 310.03 404.50 308.20 405.31 306.37C406.12 304.53 406.90 302.67 407.66 300.81C408.42 298.95 409.14 297.08 409.87 295.20C410.59 293.33 411.30 291.44 412.00 289.56C412.71 287.68 413.41 285.80 414.12 283.92C414.83 282.04 415.54 280.16 416.25 278.28C416.97 276.40 417.69 274.53 418.42 272.65C419.16 270.78 419.90 268.91 420.64 267.05C421.38 265.18 422.13 263.31 422.88 261.45C423.62 259.58 424.37 257.72 425.12 255.85C425.86 253.98 426.60 252.12 427.34 250.25C428.08 248.38 428.82 246.51 429.56 244.64C430.29 242.77 431.02 240.89 431.75 239.02C432.48 237.15 433.21 235.28 433.94 233.41C434.68 231.53 435.41 229.66 436.15 227.80C436.90 225.93 437.64 224.06 438.39 222.20C439.14 220.33 439.89 218.47 440.64 216.60C441.39 214.74 442.15 212.88 442.90 211.01C443.66 209.15 444.41 207.29 445.16 205.42C445.91 203.56 446.66 201.69 447.40 199.83C448.15 197.96 448.88 196.09 449.61 194.22C450.35 192.34 451.07 190.47 451.79 188.59C452.51 186.72 453.22 184.84 453.93 182.96C454.64 181.08 455.35 179.19 456.05 177.31C456.75 175.43 457.46 173.55 458.16 171.66C458.87 169.78 459.58 167.90 460.29 166.02C461.01 164.15 461.73 162.27 462.46 160.40C463.18 158.52 463.92 156.65 464.67 154.79C465.42 152.92 466.18 151.06 466.95 149.21C467.72 147.35 468.50 145.50 469.30 143.65C470.09 141.81 470.90 139.97 471.72 138.13C472.54 136.30 473.37 134.47 474.21 132.64C475.05 130.81 475.90 128.99 476.75 127.17C477.61 125.36 478.47 123.54 479.34 121.73C480.21 119.92 481.09 118.11 481.98 116.30C482.86 114.50 483.75 112.70 484.66 110.91C485.57 109.11 486.48 107.32 487.43 105.55C488.37 103.77 489.32 102.00 490.32 100.26C491.31 98.51 492.32 96.77 493.38 95.06C494.44 93.36 495.53 91.67 496.68 90.02C497.82 88.37 499.01 86.74 500.26 85.17C501.51 83.59 502.81 82.06 504.16 80.57C505.50 79.08 506.90 77.63 508.33 76.22C509.76 74.81 511.23 73.44 512.73 72.10C514.23 70.77 515.77 69.47 517.34 68.21C518.90 66.94 520.49 65.71 522.11 64.52C523.72 63.32 525.36 62.16 527.03 61.03C528.69 59.91 530.38 58.82 532.10 57.78C533.82 56.75 535.57 55.75 537.35 54.82C539.13 53.89 540.94 53.00 542.77 52.18C544.60 51.35 546.46 50.58 548.34 49.86C550.21 49.14 552.11 48.48 554.03 47.87C555.94 47.26 557.88 46.70 559.82 46.19C561.76 45.68 563.72 45.22 565.68 44.79C567.65 44.37 569.62 43.99 571.60 43.65C573.58 43.31 575.57 43.00 577.56 42.73C579.55 42.45 581.55 42.21 583.54 42.00C585.54 41.78 587.54 41.59 589.55 41.42C591.55 41.24 593.55 41.10 595.56 40.96C597.56 40.82 599.57 40.71 601.58 40.60C603.58 40.49 605.59 40.40 607.60 40.32C609.61 40.23 611.62 40.16 613.62 40.09C615.63 40.03 617.64 39.97 619.65 39.92C621.66 39.86 623.67 39.82 625.68 39.77C627.69 39.73 629.70 39.70 631.71 39.66C633.72 39.62 635.73 39.59 637.74 39.56C639.75 39.53 641.76 39.50 643.77 39.48C645.77 39.45 647.78 39.42 649.79 39.40C651.80 39.37 653.81 39.35 655.82 39.32C657.83 39.30 659.84 39.27 661.85 39.25C663.86 39.22 665.87 39.20 667.88 39.18C669.89 39.15 671.90 39.13 673.91 39.10C675.92 39.08 677.93 39.06 679.94 39.03C681.95 39.01 683.96 38.98 685.97 38.96C687.98 38.94 689.99 38.91 692.00 38.89C694.01 38.87 696.02 38.84 698.03 38.82C700.04 38.80 702.05 38.78 704.06 38.76C706.06 38.74 708.07 38.72 710.08 38.70C712.09 38.68 714.10 38.66 716.11 38.64C718.12 38.63 720.13 38.61 722.14 38.60C724.15 38.58 726.16 38.57 728.17 38.55C730.18 38.54 732.19 38.53 734.20 38.51C736.21 38.50 738.22 38.49 740.23 38.48C742.24 38.47 744.25 38.46 746.26 38.45C748.27 38.44 750.28 38.43 752.29 38.43C754.30 38.42 756.31 38.41 758.32 38.40C760.33 38.39 762.34 38.39 764.35 38.38C766.36 38.37 768.37 38.36 770.38 38.36C772.39 38.35 774.40 38.34 776.41 38.33C778.42 38.33 780.43 38.32 782.44 38.32C784.45 38.31 786.46 38.30 788.47 38.30C790.48 38.29 792.49 38.28 794.50 38.28C796.50 38.27 798.51 38.27 800.52 38.26C802.53 38.26 804.54 38.25 806.55 38.25C808.56 38.24 810.57 38.24 812.58 38.24C814.59 38.23 816.60 38.23 818.61 38.22C820.62 38.22 822.63 38.22 824.64 38.22C826.65 38.21 828.66 38.21 830.67 38.21C832.68 38.21 834.69 38.20 836.70 38.20C838.71 38.20 840.72 38.20 842.73 38.20C844.74 38.20 846.75 38.20 848.76 38.20C850.77 38.20 852.78 38.20 854.79 38.20C856.80 38.20 858.81 38.20 860.82 38.21C862.83 38.21 864.84 38.21 866.85 38.21C868.86 38.21 870.87 38.22 872.88 38.22C874.89 38.22 876.90 38.22 878.91 38.23C880.92 38.23 882.93 38.23 884.94 38.24C886.95 38.24 888.96 38.24 890.97 38.25C892.98 38.25 894.99 38.25 897.00 38.26C899.01 38.26 901.01 38.26 903.02 38.27C905.03 38.27 907.04 38.27 909.05 38.28C911.06 38.28 913.07 38.29 915.08 38.29C917.09 38.29 919.10 38.30 921.11 38.30C923.12 38.30 925.13 38.31 927.14 38.31C929.15 38.32 931.16 38.32 933.17 38.32C935.18 38.33 937.19 38.33 939.20 38.33C941.21 38.34 943.22 38.34 945.23 38.34C947.24 38.35 949.25 38.35 951.26 38.35C953.27 38.36 955.28 38.36 957.29 38.36C959.30 38.37 961.31 38.37 963.32 38.37C965.33 38.38 967.34 38.38 969.35 38.38C971.36 38.39 973.37 38.39 975.38 38.39C977.39 38.40 979.40 38.40 981.41 38.40C983.42 38.41 985.43 38.41 987.44 38.41C989.45 38.42 991.46 38.42 993.47 38.42C995.48 38.43 997.49 38.43 999.50 38.43C1001.51 38.43 1003.52 38.44 1005.52 38.44C1007.53 38.44 1009.54 38.45 1011.55 38.45C1013.56 38.45 1015.57 38.46 1017.58 38.46C1019.59 38.46 1021.60 38.47 1023.61 38.47C1025.62 38.47 1027.63 38.48 1029.64 38.48C1031.65 38.48 1033.66 38.49 1035.67 38.49C1037.68 38.49 1040.70 38.50 1041.70 38.50" stroke="#A64B12"/><path d="M317.98 395.60C318.97 395.50 321.97 395.19 323.96 394.96C325.96 394.72 327.95 394.47 329.94 394.19C331.93 393.91 333.91 393.60 335.89 393.25C337.87 392.90 339.84 392.53 341.80 392.10C343.76 391.67 345.72 391.19 347.65 390.66C349.59 390.12 351.51 389.53 353.41 388.88C355.31 388.23 357.19 387.52 359.04 386.74C360.89 385.96 362.72 385.12 364.50 384.19C366.28 383.27 368.03 382.27 369.72 381.19C371.41 380.12 373.07 378.97 374.66 377.75C376.25 376.52 377.79 375.22 379.26 373.86C380.73 372.49 382.13 371.05 383.48 369.56C384.82 368.07 386.10 366.52 387.33 364.93C388.56 363.34 389.71 361.70 390.83 360.03C391.95 358.36 393.00 356.65 394.03 354.92C395.05 353.20 396.03 351.44 396.98 349.67C397.94 347.91 398.86 346.12 399.76 344.33C400.67 342.54 401.54 340.73 402.40 338.92C403.27 337.10 404.11 335.28 404.94 333.45C405.78 331.62 406.60 329.79 407.40 327.95C408.20 326.11 408.99 324.26 409.76 322.41C410.53 320.55 411.29 318.69 412.02 316.82C412.76 314.96 413.48 313.08 414.18 311.20C414.88 309.32 415.57 307.43 416.24 305.54C416.91 303.64 417.56 301.74 418.20 299.84C418.84 297.94 419.47 296.03 420.09 294.12C420.70 292.21 421.31 290.29 421.90 288.38C422.50 286.46 423.09 284.54 423.67 282.62C424.25 280.69 424.83 278.77 425.40 276.84C425.97 274.92 426.54 272.99 427.11 271.07C427.67 269.14 428.24 267.21 428.80 265.29C429.37 263.36 429.94 261.43 430.51 259.51C431.08 257.58 431.65 255.66 432.22 253.73C432.80 251.81 433.38 249.89 433.96 247.96C434.54 246.04 435.12 244.12 435.70 242.20C436.29 240.28 436.88 238.36 437.46 236.43C438.04 234.51 438.62 232.59 439.19 230.66C439.77 228.74 440.34 226.81 440.90 224.89C441.45 222.96 442.01 221.03 442.55 219.09C443.09 217.16 443.62 215.22 444.14 213.28C444.66 211.34 445.17 209.40 445.67 207.45C446.17 205.51 446.65 203.56 447.12 201.61C447.59 199.65 448.05 197.70 448.49 195.74C448.93 193.78 449.35 191.82 449.77 189.85C450.19 187.89 450.59 185.92 450.99 183.95C451.38 181.98 451.76 180.01 452.15 178.04C452.53 176.07 452.90 174.10 453.28 172.12C453.66 170.15 454.03 168.18 454.42 166.21C454.80 164.24 455.19 162.27 455.60 160.30C456.00 158.33 456.41 156.37 456.85 154.41C457.28 152.45 457.73 150.49 458.20 148.54C458.68 146.59 459.17 144.64 459.69 142.70C460.21 140.76 460.75 138.82 461.32 136.90C461.89 134.97 462.48 133.05 463.10 131.14C463.72 129.23 464.36 127.33 465.01 125.43C465.67 123.53 466.34 121.64 467.01 119.75C467.68 117.85 468.36 115.96 469.04 114.07C469.72 112.19 470.41 110.30 471.09 108.41C471.77 106.52 472.46 104.63 473.14 102.74C473.83 100.86 474.51 98.97 475.20 97.08C475.89 95.20 476.58 93.31 477.29 91.43C478.00 89.55 478.71 87.68 479.45 85.81C480.19 83.94 480.95 82.08 481.73 80.23C482.52 78.38 483.32 76.54 484.16 74.72C485.01 72.90 485.88 71.09 486.80 69.30C487.71 67.52 488.67 65.75 489.68 64.01C490.69 62.28 491.74 60.56 492.86 58.90C493.98 57.23 495.15 55.59 496.38 54.01C497.62 52.43 498.91 50.89 500.27 49.41C501.63 47.94 503.06 46.52 504.54 45.17C506.02 43.81 507.57 42.52 509.16 41.31C510.76 40.09 512.41 38.93 514.10 37.85C515.79 36.77 517.53 35.76 519.30 34.82C521.08 33.88 522.89 33.01 524.73 32.21C526.57 31.41 528.45 30.68 530.34 30.01C532.23 29.34 534.15 28.74 536.08 28.19C538.01 27.65 539.96 27.16 541.92 26.73C543.88 26.29 545.86 25.91 547.84 25.57C549.81 25.23 551.80 24.95 553.79 24.69C555.79 24.43 557.78 24.21 559.78 24.02C561.78 23.83 563.78 23.67 565.79 23.53C567.79 23.40 569.80 23.29 571.80 23.20C573.81 23.10 575.82 23.04 577.82 22.98C579.83 22.93 581.84 22.90 583.85 22.88C585.85 22.85 587.86 22.85 589.87 22.86C591.88 22.87 593.89 22.89 595.90 22.92C597.90 22.96 599.91 23.00 601.92 23.05C603.93 23.10 605.93 23.16 607.94 23.22C609.95 23.28 611.96 23.34 613.96 23.40C615.97 23.46 617.98 23.52 619.98 23.57C621.99 23.62 624.00 23.67 626.01 23.71C628.02 23.75 630.02 23.78 632.03 23.80C634.04 23.83 636.05 23.84 638.06 23.85C640.06 23.87 642.07 23.87 644.08 23.88C646.09 23.88 648.10 23.88 650.10 23.88C652.11 23.88 654.12 23.87 656.13 23.86C658.14 23.86 660.15 23.85 662.15 23.84C664.16 23.83 666.17 23.81 668.18 23.80C670.19 23.79 672.19 23.78 674.20 23.77C676.21 23.75 678.22 23.74 680.23 23.73C682.24 23.72 684.24 23.71 686.25 23.70C688.26 23.69 690.27 23.68 692.28 23.67C694.28 23.66 696.29 23.66 698.30 23.65C700.31 23.64 702.32 23.64 704.33 23.63C706.33 23.63 708.34 23.62 710.35 23.62C712.36 23.61 714.37 23.61 716.37 23.60C718.38 23.60 720.39 23.59 722.40 23.59C724.41 23.59 726.42 23.58 728.42 23.58C730.43 23.57 732.44 23.57 734.45 23.56C736.46 23.56 738.46 23.55 740.47 23.55C742.48 23.54 744.49 23.54 746.50 23.53C748.51 23.53 750.51 23.52 752.52 23.52C754.53 23.51 756.54 23.51 758.55 23.50C760.55 23.50 762.56 23.49 764.57 23.48C766.58 23.48 768.59 23.47 770.60 23.46C772.60 23.46 774.61 23.45 776.62 23.44C778.63 23.44 780.64 23.43 782.64 23.42C784.65 23.42 786.66 23.41 788.67 23.40C790.68 23.39 792.69 23.39 794.69 23.38C796.70 23.37 798.71 23.37 800.72 23.36C802.73 23.35 804.73 23.35 806.74 23.34C808.75 23.34 810.76 23.33 812.77 23.32C814.78 23.32 816.78 23.31 818.79 23.31C820.80 23.30 822.81 23.30 824.82 23.29C826.83 23.29 828.83 23.28 830.84 23.28C832.85 23.28 834.86 23.27 836.87 23.27C838.87 23.26 840.88 23.26 842.89 23.26C844.90 23.25 846.91 23.25 848.92 23.25C850.92 23.24 852.93 23.24 854.94 23.24C856.95 23.24 858.96 23.23 860.96 23.23C862.97 23.23 864.98 23.22 866.99 23.22C869.00 23.22 871.01 23.21 873.01 23.21C875.02 23.21 877.03 23.20 879.04 23.20C881.05 23.19 883.05 23.19 885.06 23.18C887.07 23.18 889.08 23.18 891.09 23.17C893.10 23.17 895.10 23.16 897.11 23.16C899.12 23.15 901.13 23.15 903.14 23.14C905.14 23.14 907.15 23.13 909.16 23.13C911.17 23.12 913.18 23.12 915.19 23.11C917.19 23.11 919.20 23.11 921.21 23.10C923.22 23.10 925.23 23.09 927.23 23.09C929.24 23.09 931.25 23.08 933.26 23.08C935.27 23.07 937.28 23.07 939.28 23.07C941.29 23.06 943.30 23.06 945.31 23.06C947.32 23.05 949.32 23.05 951.33 23.05C953.34 23.04 955.35 23.04 957.36 23.04C959.37 23.04 961.37 23.03 963.38 23.03C965.39 23.03 967.40 23.02 969.41 23.02C971.41 23.01 973.42 23.01 975.43 23.01C977.44 23.00 979.45 23.00 981.46 22.99C983.46 22.99 985.47 22.99 987.48 22.98C989.49 22.98 991.50 22.97 993.51 22.97C995.51 22.96 997.52 22.96 999.53 22.95C1001.54 22.94 1003.55 22.94 1005.55 22.93C1007.56 22.93 1009.57 22.92 1011.58 22.91C1013.59 22.91 1015.60 22.90 1017.60 22.89C1019.61 22.88 1021.62 22.88 1023.63 22.87C1025.64 22.86 1027.64 22.85 1029.65 22.85C1031.66 22.84 1033.67 22.83 1035.68 22.82C1037.69 22.82 1040.70 22.80 1041.70 22.80" stroke="#C47C18"/><path d="M344.99 395.40C345.99 395.31 348.98 395.06 350.98 394.87C352.97 394.69 354.96 394.49 356.95 394.27C358.94 394.06 360.93 393.82 362.92 393.56C364.90 393.31 366.89 393.04 368.87 392.74C370.85 392.44 372.82 392.13 374.80 391.79C376.77 391.45 378.74 391.09 380.71 390.72C382.67 390.34 384.64 389.94 386.59 389.52C388.55 389.09 390.50 388.65 392.45 388.17C394.39 387.69 396.33 387.19 398.25 386.64C400.18 386.09 402.10 385.51 404.00 384.88C405.89 384.24 407.78 383.56 409.64 382.82C411.49 382.07 413.34 381.27 415.13 380.39C416.93 379.51 418.70 378.57 420.41 377.53C422.12 376.50 423.80 375.38 425.40 374.19C427.01 373.00 428.56 371.73 430.05 370.39C431.54 369.05 432.96 367.64 434.32 366.17C435.68 364.71 436.97 363.17 438.21 361.60C439.45 360.03 440.62 358.40 441.75 356.74C442.87 355.09 443.93 353.39 444.96 351.67C445.99 349.95 446.96 348.20 447.91 346.44C448.86 344.68 449.77 342.89 450.66 341.10C451.55 339.30 452.41 337.50 453.26 335.68C454.10 333.86 454.92 332.04 455.72 330.20C456.51 328.36 457.29 326.52 458.05 324.67C458.81 322.81 459.55 320.95 460.27 319.09C460.99 317.22 461.69 315.34 462.37 313.46C463.04 311.57 463.70 309.68 464.33 307.78C464.97 305.88 465.59 303.98 466.19 302.07C466.79 300.16 467.37 298.24 467.94 296.32C468.51 294.40 469.07 292.48 469.61 290.55C470.16 288.63 470.70 286.70 471.23 284.77C471.77 282.84 472.30 280.91 472.83 278.98C473.35 277.05 473.87 275.11 474.39 273.18C474.91 271.24 475.42 269.31 475.93 267.37C476.44 265.44 476.95 263.50 477.45 261.56C477.95 259.62 478.44 257.68 478.94 255.74C479.44 253.80 479.93 251.86 480.42 249.92C480.91 247.98 481.40 246.04 481.89 244.10C482.38 242.15 482.86 240.21 483.34 238.27C483.83 236.33 484.31 234.38 484.78 232.44C485.25 230.49 485.72 228.54 486.18 226.59C486.63 224.64 487.08 222.69 487.51 220.74C487.95 218.78 488.37 216.83 488.79 214.87C489.21 212.91 489.62 210.95 490.04 208.99C490.46 207.04 490.87 205.08 491.30 203.12C491.73 201.16 492.15 199.21 492.60 197.26C493.05 195.30 493.51 193.36 493.98 191.41C494.46 189.47 494.95 187.53 495.45 185.59C495.96 183.65 496.47 181.71 496.99 179.78C497.50 177.84 498.02 175.91 498.54 173.98C499.06 172.04 499.58 170.11 500.09 168.17C500.60 166.24 501.11 164.30 501.61 162.36C502.12 160.43 502.61 158.49 503.11 156.55C503.61 154.61 504.10 152.67 504.61 150.73C505.12 148.79 505.64 146.86 506.17 144.93C506.70 143.00 507.25 141.07 507.81 139.15C508.37 137.23 508.94 135.31 509.52 133.39C510.10 131.48 510.70 129.57 511.30 127.66C511.91 125.75 512.52 123.84 513.14 121.94C513.77 120.04 514.40 118.14 515.04 116.24C515.68 114.34 516.32 112.45 516.98 110.56C517.64 108.67 518.31 106.78 519.01 104.90C519.70 103.02 520.41 101.15 521.14 99.29C521.88 97.42 522.63 95.57 523.41 93.73C524.19 91.88 525.00 90.05 525.83 88.23C526.66 86.41 527.53 84.60 528.41 82.80C529.30 81.01 530.21 79.22 531.13 77.45C532.06 75.68 533.01 73.91 533.98 72.16C534.94 70.41 535.93 68.66 536.94 66.94C537.96 65.21 538.99 63.50 540.07 61.81C541.15 60.12 542.25 58.45 543.40 56.81C544.56 55.17 545.74 53.56 546.98 51.99C548.22 50.42 549.51 48.88 550.85 47.39C552.19 45.91 553.59 44.47 555.03 43.08C556.47 41.70 557.97 40.36 559.51 39.08C561.05 37.81 562.64 36.58 564.27 35.42C565.90 34.27 567.58 33.16 569.29 32.13C571.01 31.10 572.76 30.13 574.55 29.23C576.34 28.33 578.16 27.49 580.01 26.73C581.86 25.97 583.75 25.28 585.65 24.66C587.55 24.04 589.48 23.50 591.43 23.02C593.37 22.54 595.33 22.14 597.31 21.79C599.28 21.45 601.26 21.17 603.25 20.94C605.24 20.70 607.23 20.54 609.23 20.40C611.23 20.26 613.23 20.17 615.23 20.10C617.23 20.03 619.23 19.99 621.24 19.96C623.24 19.93 625.24 19.91 627.24 19.90C629.24 19.89 631.25 19.90 633.25 19.90C635.25 19.90 637.25 19.90 639.26 19.91C641.26 19.91 643.26 19.91 645.26 19.91C647.26 19.91 649.27 19.91 651.27 19.91C653.27 19.91 655.27 19.91 657.28 19.90C659.28 19.90 661.28 19.89 663.28 19.88C665.28 19.88 667.29 19.87 669.29 19.86C671.29 19.85 673.29 19.85 675.30 19.84C677.30 19.83 679.30 19.83 681.30 19.82C683.30 19.82 685.31 19.81 687.31 19.81C689.31 19.80 691.31 19.80 693.32 19.80C695.32 19.80 697.32 19.80 699.32 19.79C701.32 19.79 703.33 19.79 705.33 19.79C707.33 19.79 709.33 19.79 711.34 19.79C713.34 19.79 715.34 19.79 717.34 19.79C719.34 19.79 721.35 19.79 723.35 19.80C725.35 19.80 727.35 19.80 729.36 19.80C731.36 19.80 733.36 19.80 735.36 19.80C737.36 19.80 739.37 19.80 741.37 19.80C743.37 19.80 745.37 19.80 747.38 19.80C749.38 19.80 751.38 19.80 753.38 19.80C755.38 19.80 757.39 19.80 759.39 19.80C761.39 19.80 763.39 19.80 765.40 19.80C767.40 19.80 769.40 19.80 771.40 19.80C773.40 19.80 775.41 19.80 777.41 19.80C779.41 19.80 781.41 19.80 783.42 19.80C785.42 19.80 787.42 19.80 789.42 19.80C791.42 19.80 793.43 19.80 795.43 19.80C797.43 19.80 799.43 19.80 801.44 19.80C803.44 19.80 805.44 19.80 807.44 19.80C809.44 19.80 811.45 19.80 813.45 19.80C815.45 19.80 817.45 19.80 819.46 19.80C821.46 19.80 823.46 19.80 825.46 19.80C827.46 19.80 829.47 19.80 831.47 19.80C833.47 19.80 835.47 19.80 837.47 19.80C839.48 19.80 841.48 19.80 843.48 19.80C845.48 19.80 847.49 19.80 849.49 19.80C851.49 19.80 853.49 19.80 855.49 19.80C857.50 19.80 859.50 19.80 861.50 19.80C863.50 19.80 865.51 19.80 867.51 19.80C869.51 19.80 871.51 19.80 873.51 19.80C875.52 19.80 877.52 19.80 879.52 19.80C881.52 19.80 883.53 19.80 885.53 19.80C887.53 19.80 889.53 19.80 891.53 19.80C893.54 19.80 895.54 19.80 897.54 19.80C899.54 19.80 901.55 19.80 903.55 19.80C905.55 19.80 907.55 19.80 909.55 19.80C911.56 19.80 913.56 19.80 915.56 19.80C917.56 19.80 919.57 19.80 921.57 19.80C923.57 19.80 925.57 19.80 927.57 19.79C929.58 19.79 931.58 19.79 933.58 19.79C935.58 19.78 937.59 19.78 939.59 19.78C941.59 19.78 943.59 19.77 945.59 19.77C947.60 19.77 949.60 19.76 951.60 19.76C953.60 19.76 955.61 19.75 957.61 19.75C959.61 19.74 961.61 19.74 963.61 19.74C965.62 19.73 967.62 19.73 969.62 19.72C971.62 19.72 973.63 19.71 975.63 19.71C977.63 19.71 979.63 19.70 981.63 19.70C983.64 19.69 985.64 19.69 987.64 19.69C989.64 19.68 991.65 19.68 993.65 19.67C995.65 19.67 997.65 19.67 999.65 19.66C1001.66 19.66 1003.66 19.66 1005.66 19.65C1007.66 19.65 1009.67 19.65 1011.67 19.64C1013.67 19.64 1015.67 19.64 1017.67 19.63C1019.68 19.63 1021.68 19.63 1023.68 19.63C1025.68 19.62 1027.69 19.62 1029.69 19.62C1031.69 19.61 1033.69 19.61 1035.69 19.61C1037.70 19.61 1040.70 19.60 1041.70 19.60" stroke="#DCDA26"/><path d="M238.38 395.60C239.38 395.56 242.40 395.44 244.40 395.31C246.41 395.18 248.41 395.03 250.41 394.84C252.41 394.66 254.41 394.43 256.41 394.20C258.40 393.97 260.40 393.71 262.39 393.44C264.38 393.16 266.37 392.87 268.35 392.56C270.34 392.26 272.32 391.93 274.30 391.60C276.28 391.26 278.26 390.91 280.24 390.55C282.22 390.19 284.19 389.81 286.16 389.42C288.13 389.03 290.10 388.62 292.06 388.19C294.03 387.77 295.99 387.32 297.94 386.86C299.90 386.40 301.85 385.91 303.79 385.41C305.74 384.91 307.68 384.38 309.61 383.84C311.55 383.29 313.48 382.73 315.40 382.15C317.33 381.57 319.24 380.97 321.16 380.37C323.08 379.76 324.99 379.14 326.90 378.52C328.81 377.89 330.72 377.26 332.63 376.63C334.53 376.00 336.44 375.37 338.35 374.73C340.25 374.10 342.16 373.46 344.06 372.81C345.96 372.17 347.87 371.53 349.77 370.87C351.66 370.20 353.56 369.54 355.45 368.84C357.33 368.15 359.21 367.44 361.08 366.69C362.94 365.94 364.80 365.17 366.64 364.37C368.48 363.56 370.31 362.73 372.12 361.86C373.93 360.99 375.72 360.08 377.51 359.15C379.29 358.22 381.05 357.26 382.82 356.29C384.58 355.33 386.33 354.34 388.08 353.35C389.82 352.36 391.57 351.36 393.31 350.35C395.05 349.35 396.78 348.34 398.52 347.32C400.25 346.30 401.97 345.27 403.70 344.23C405.42 343.20 407.13 342.15 408.84 341.10C410.55 340.04 412.26 338.98 413.96 337.90C415.65 336.82 417.34 335.74 419.03 334.64C420.71 333.54 422.39 332.44 424.06 331.32C425.73 330.21 427.40 329.09 429.07 327.96C430.73 326.83 432.39 325.70 434.04 324.55C435.68 323.40 437.32 322.24 438.95 321.06C440.58 319.88 442.19 318.68 443.80 317.47C445.40 316.26 446.99 315.04 448.58 313.80C450.16 312.56 451.73 311.31 453.30 310.05C454.87 308.79 456.42 307.52 457.98 306.25C459.53 304.97 461.08 303.69 462.63 302.41C464.17 301.13 465.72 299.85 467.26 298.56C468.81 297.27 470.35 295.98 471.88 294.68C473.42 293.39 474.95 292.09 476.47 290.78C478.00 289.47 479.52 288.15 481.02 286.82C482.53 285.50 484.03 284.16 485.52 282.80C487.00 281.45 488.48 280.08 489.93 278.70C491.39 277.32 492.84 275.92 494.26 274.51C495.69 273.09 497.11 271.66 498.50 270.22C499.90 268.78 501.28 267.32 502.65 265.85C504.02 264.37 505.37 262.89 506.72 261.40C508.06 259.90 509.39 258.39 510.72 256.88C512.05 255.38 513.36 253.86 514.68 252.34C516.00 250.83 517.32 249.31 518.65 247.81C519.98 246.30 521.32 244.80 522.66 243.30C524.00 241.80 525.35 240.31 526.70 238.82C528.05 237.34 529.41 235.86 530.76 234.37C532.12 232.89 533.48 231.41 534.83 229.92C536.18 228.43 537.53 226.94 538.86 225.44C540.19 223.93 541.51 222.42 542.82 220.89C544.13 219.37 545.42 217.83 546.71 216.29C548.00 214.75 549.28 213.19 550.55 211.64C551.82 210.09 553.08 208.52 554.35 206.96C555.61 205.40 556.87 203.83 558.14 202.27C559.40 200.71 560.66 199.14 561.93 197.59C563.21 196.03 564.48 194.48 565.78 192.94C567.07 191.40 568.37 189.87 569.69 188.36C571.01 186.84 572.35 185.34 573.70 183.85C575.05 182.37 576.41 180.89 577.79 179.43C579.17 177.97 580.57 176.52 581.97 175.08C583.36 173.63 584.78 172.21 586.17 170.76C587.57 169.31 588.96 167.87 590.34 166.41C591.72 164.94 593.08 163.46 594.44 161.98C595.80 160.51 597.15 159.02 598.52 157.54C599.88 156.07 601.25 154.60 602.64 153.14C604.02 151.69 605.42 150.24 606.83 148.81C608.25 147.39 609.68 145.97 611.12 144.58C612.57 143.18 614.03 141.80 615.50 140.43C616.97 139.06 618.46 137.71 619.95 136.37C621.44 135.02 622.95 133.69 624.46 132.36C625.96 131.03 627.48 129.71 629.00 128.39C630.51 127.08 632.04 125.77 633.57 124.46C635.09 123.16 636.62 121.85 638.16 120.56C639.70 119.27 641.25 117.98 642.80 116.71C644.36 115.44 645.92 114.18 647.50 112.93C649.07 111.68 650.66 110.45 652.25 109.22C653.84 108.00 655.44 106.78 657.05 105.57C658.65 104.36 660.26 103.15 661.87 101.95C663.48 100.75 665.09 99.55 666.70 98.35C668.31 97.15 669.92 95.95 671.54 94.75C673.15 93.55 674.76 92.34 676.38 91.15C677.99 89.96 679.61 88.77 681.24 87.60C682.88 86.42 684.51 85.26 686.17 84.12C687.82 82.97 689.48 81.85 691.16 80.74C692.84 79.63 694.53 78.55 696.23 77.48C697.94 76.42 699.66 75.38 701.38 74.35C703.11 73.32 704.85 72.31 706.59 71.30C708.33 70.30 710.07 69.31 711.83 68.32C713.58 67.34 715.33 66.35 717.10 65.40C718.86 64.44 720.63 63.49 722.42 62.56C724.20 61.64 726.00 60.74 727.81 59.86C729.62 58.99 731.44 58.13 733.27 57.31C735.10 56.48 736.95 55.68 738.80 54.91C740.65 54.14 742.52 53.39 744.40 52.67C746.27 51.95 748.16 51.25 750.05 50.57C751.94 49.90 753.84 49.24 755.75 48.61C757.66 47.98 759.57 47.37 761.49 46.78C763.42 46.20 765.35 45.64 767.28 45.10C769.22 44.55 771.16 44.04 773.11 43.54C775.05 43.04 777.01 42.57 778.96 42.10C780.91 41.63 782.87 41.18 784.83 40.73C786.79 40.28 788.75 39.84 790.71 39.40C792.67 38.95 794.63 38.52 796.59 38.07C798.55 37.63 800.51 37.18 802.47 36.72C804.42 36.27 806.38 35.81 808.34 35.34C810.29 34.87 812.24 34.40 814.19 33.92C816.14 33.44 818.09 32.95 820.04 32.46C821.99 31.98 823.94 31.49 825.89 31.00C827.84 30.52 829.79 30.04 831.75 29.56C833.70 29.09 835.65 28.62 837.61 28.16C839.57 27.71 841.53 27.26 843.49 26.83C845.45 26.39 847.42 25.97 849.38 25.56C851.35 25.16 853.32 24.76 855.30 24.38C857.27 24.01 859.25 23.64 861.23 23.29C863.20 22.94 865.19 22.61 867.17 22.29C869.15 21.97 871.14 21.67 873.13 21.37C875.12 21.08 877.11 20.81 879.10 20.54C881.09 20.28 883.09 20.03 885.08 19.80C887.08 19.57 889.08 19.35 891.08 19.15C893.07 18.94 895.08 18.76 897.08 18.58C899.08 18.40 901.08 18.24 903.09 18.08C905.09 17.93 907.09 17.79 909.10 17.66C911.10 17.53 913.11 17.41 915.12 17.31C917.12 17.20 919.13 17.11 921.14 17.03C923.15 16.96 925.16 16.89 927.17 16.84C929.17 16.78 931.18 16.73 933.19 16.69C935.20 16.64 937.21 16.61 939.22 16.57C941.23 16.54 943.24 16.51 945.25 16.48C947.26 16.45 949.27 16.42 951.28 16.40C953.28 16.37 955.29 16.35 957.30 16.33C959.31 16.31 961.32 16.29 963.33 16.27C965.34 16.25 967.35 16.23 969.36 16.22C971.37 16.20 973.38 16.18 975.39 16.17C977.40 16.15 979.41 16.13 981.42 16.12C983.43 16.10 985.44 16.09 987.45 16.08C989.46 16.06 991.46 16.05 993.47 16.04C995.48 16.03 997.49 16.02 999.50 16.01C1001.51 16.00 1003.52 15.99 1005.53 15.98C1007.54 15.98 1009.55 15.97 1011.56 15.97C1013.57 15.96 1015.58 15.96 1017.59 15.96C1019.60 15.96 1021.61 15.96 1023.62 15.96C1025.63 15.96 1027.64 15.97 1029.65 15.97C1031.66 15.97 1033.67 15.98 1035.67 15.98C1037.68 15.99 1040.70 16.00 1041.70 16.00" stroke="#0D6E88"/><path d="M302.98 395.61C303.96 395.41 306.91 394.85 308.87 394.44C310.83 394.03 312.78 393.59 314.73 393.13C316.67 392.67 318.61 392.18 320.55 391.67C322.48 391.16 324.42 390.64 326.34 390.09C328.26 389.54 330.18 388.98 332.10 388.39C334.01 387.80 335.92 387.20 337.82 386.57C339.72 385.95 341.61 385.30 343.50 384.63C345.38 383.96 347.26 383.27 349.13 382.55C350.99 381.83 352.85 381.09 354.69 380.31C356.54 379.54 358.37 378.73 360.19 377.90C362.01 377.06 363.81 376.19 365.60 375.30C367.39 374.41 369.17 373.48 370.93 372.54C372.69 371.59 374.44 370.62 376.18 369.64C377.93 368.66 379.66 367.65 381.39 366.65C383.12 365.65 384.85 364.64 386.58 363.63C388.31 362.63 390.05 361.63 391.77 360.63C393.50 359.62 395.23 358.61 396.94 357.58C398.66 356.55 400.37 355.50 402.06 354.43C403.75 353.37 405.43 352.28 407.09 351.16C408.75 350.04 410.39 348.90 412.01 347.73C413.64 346.56 415.24 345.36 416.82 344.14C418.41 342.92 419.98 341.68 421.53 340.42C423.09 339.17 424.63 337.89 426.16 336.60C427.70 335.32 429.22 334.02 430.74 332.72C432.25 331.41 433.77 330.10 435.27 328.78C436.77 327.46 438.28 326.14 439.76 324.80C441.24 323.45 442.72 322.10 444.16 320.72C445.61 319.34 447.04 317.94 448.44 316.51C449.84 315.08 451.22 313.63 452.59 312.17C453.95 310.70 455.29 309.22 456.61 307.72C457.94 306.22 459.25 304.71 460.55 303.19C461.85 301.66 463.13 300.13 464.41 298.59C465.70 297.06 466.97 295.52 468.24 293.97C469.51 292.43 470.78 290.88 472.04 289.32C473.30 287.77 474.56 286.21 475.80 284.65C477.05 283.09 478.30 281.52 479.53 279.94C480.76 278.36 481.98 276.78 483.19 275.18C484.39 273.58 485.58 271.97 486.75 270.35C487.92 268.73 489.07 267.09 490.20 265.44C491.33 263.79 492.45 262.13 493.54 260.46C494.64 258.78 495.71 257.09 496.78 255.40C497.85 253.71 498.90 252.01 499.96 250.31C501.01 248.61 502.05 246.90 503.10 245.20C504.16 243.50 505.20 241.79 506.27 240.10C507.34 238.41 508.42 236.72 509.51 235.04C510.60 233.37 511.70 231.70 512.81 230.03C513.92 228.37 515.04 226.71 516.15 225.05C517.27 223.39 518.39 221.73 519.51 220.07C520.62 218.41 521.74 216.75 522.85 215.09C523.96 213.42 525.06 211.75 526.16 210.08C527.25 208.40 528.34 206.72 529.42 205.04C530.50 203.36 531.58 201.67 532.65 199.98C533.73 198.29 534.79 196.60 535.86 194.91C536.93 193.22 538.00 191.53 539.08 189.84C540.15 188.15 541.23 186.47 542.32 184.79C543.40 183.11 544.49 181.43 545.59 179.76C546.69 178.09 547.80 176.42 548.90 174.75C550.01 173.09 551.13 171.43 552.24 169.76C553.35 168.10 554.46 166.43 555.56 164.76C556.66 163.09 557.75 161.41 558.84 159.73C559.92 158.05 561.00 156.37 562.08 154.68C563.15 152.99 564.22 151.30 565.29 149.61C566.37 147.93 567.44 146.23 568.53 144.56C569.62 142.88 570.72 141.21 571.86 139.57C573.00 137.92 574.16 136.29 575.35 134.68C576.54 133.08 577.76 131.49 579.01 129.93C580.26 128.36 581.54 126.82 582.84 125.30C584.14 123.78 585.47 122.29 586.81 120.81C588.15 119.32 589.52 117.86 590.89 116.40C592.27 114.95 593.66 113.51 595.05 112.07C596.44 110.64 597.85 109.21 599.25 107.79C600.66 106.36 602.06 104.94 603.47 103.52C604.88 102.10 606.29 100.68 607.71 99.27C609.14 97.87 610.56 96.46 612.00 95.08C613.45 93.69 614.90 92.31 616.38 90.97C617.86 89.62 619.35 88.29 620.89 87.00C622.42 85.72 623.98 84.47 625.58 83.26C627.18 82.06 628.81 80.90 630.46 79.77C632.11 78.65 633.80 77.56 635.49 76.50C637.19 75.45 638.92 74.43 640.65 73.43C642.38 72.43 644.14 71.47 645.90 70.52C647.66 69.57 649.43 68.65 651.22 67.73C653.00 66.82 654.79 65.93 656.58 65.05C658.38 64.16 660.18 63.29 661.98 62.42C663.78 61.55 665.59 60.69 667.40 59.83C669.20 58.98 671.01 58.13 672.83 57.28C674.64 56.44 676.46 55.59 678.28 54.77C680.10 53.94 681.92 53.12 683.77 52.33C685.61 51.55 687.45 50.78 689.32 50.06C691.18 49.34 693.06 48.65 694.96 48.00C696.85 47.35 698.76 46.74 700.67 46.17C702.59 45.60 704.52 45.06 706.46 44.57C708.39 44.07 710.34 43.61 712.29 43.17C714.25 42.74 716.21 42.34 718.17 41.96C720.14 41.58 722.11 41.23 724.08 40.89C726.05 40.56 728.03 40.25 730.01 39.96C731.99 39.66 733.97 39.38 735.95 39.11C737.93 38.85 739.92 38.60 741.90 38.35C743.89 38.11 745.88 37.88 747.87 37.65C749.85 37.43 751.84 37.21 753.83 37.01C755.82 36.80 757.81 36.60 759.80 36.40C761.79 36.20 763.79 36.01 765.78 35.83C767.77 35.64 769.76 35.46 771.76 35.29C773.75 35.11 775.74 34.94 777.74 34.77C779.73 34.61 781.72 34.45 783.72 34.29C785.71 34.13 787.71 33.98 789.70 33.83C791.70 33.68 793.69 33.54 795.69 33.40C797.69 33.26 799.68 33.12 801.68 32.99C803.68 32.86 805.67 32.74 807.67 32.61C809.67 32.49 811.66 32.37 813.66 32.26C815.66 32.15 817.66 32.04 819.65 31.94C821.65 31.84 823.65 31.74 825.65 31.65C827.65 31.56 829.65 31.47 831.65 31.39C833.65 31.32 835.65 31.25 837.64 31.18C839.64 31.12 841.64 31.06 843.64 31.01C845.64 30.96 847.64 30.92 849.65 30.89C851.65 30.85 853.65 30.82 855.65 30.80C857.65 30.78 859.65 30.77 861.65 30.75C863.65 30.74 865.65 30.74 867.65 30.73C869.65 30.72 871.65 30.72 873.65 30.72C875.65 30.71 877.65 30.71 879.66 30.70C881.66 30.70 883.66 30.69 885.66 30.68C887.66 30.66 889.66 30.65 891.66 30.62C893.66 30.60 895.66 30.56 897.66 30.53C899.66 30.49 901.66 30.45 903.66 30.40C905.66 30.36 907.66 30.31 909.66 30.26C911.66 30.21 913.66 30.15 915.66 30.10C917.66 30.05 919.66 30.01 921.66 29.97C923.66 29.92 925.66 29.89 927.66 29.86C929.66 29.83 931.67 29.81 933.67 29.79C935.67 29.77 937.67 29.76 939.67 29.75C941.67 29.74 943.67 29.74 945.67 29.74C947.67 29.74 949.67 29.74 951.67 29.74C953.67 29.74 955.67 29.75 957.67 29.75C959.68 29.75 961.68 29.75 963.68 29.76C965.68 29.76 967.68 29.76 969.68 29.76C971.68 29.76 973.68 29.75 975.68 29.75C977.68 29.74 979.68 29.74 981.68 29.73C983.68 29.72 985.68 29.71 987.69 29.69C989.69 29.68 991.69 29.67 993.69 29.65C995.69 29.63 997.69 29.62 999.69 29.60C1001.69 29.58 1003.69 29.55 1005.69 29.53C1007.69 29.51 1009.69 29.48 1011.69 29.46C1013.69 29.43 1015.69 29.40 1017.69 29.37C1019.70 29.35 1021.70 29.32 1023.70 29.29C1025.70 29.26 1027.70 29.23 1029.70 29.19C1031.70 29.16 1033.70 29.13 1035.70 29.10C1037.70 29.07 1040.70 29.02 1041.70 29.00" stroke="#63B8DD"/><path d="M344.97 395.60C345.97 395.47 348.95 395.07 350.94 394.82C352.93 394.57 354.92 394.35 356.91 394.12C358.90 393.89 360.89 393.68 362.88 393.44C364.87 393.20 366.86 392.95 368.85 392.68C370.83 392.40 372.81 392.10 374.79 391.78C376.77 391.45 378.74 391.10 380.71 390.72C382.68 390.34 384.64 389.94 386.60 389.51C388.55 389.08 390.51 388.62 392.45 388.13C394.39 387.65 396.33 387.14 398.26 386.60C400.19 386.06 402.12 385.50 404.03 384.91C405.95 384.32 407.85 383.70 409.75 383.05C411.65 382.41 413.54 381.74 415.42 381.04C417.30 380.34 419.17 379.62 421.02 378.87C422.88 378.11 424.73 377.33 426.56 376.52C428.39 375.70 430.20 374.86 432.00 373.97C433.80 373.09 435.58 372.17 437.34 371.21C439.10 370.24 440.84 369.24 442.55 368.20C444.26 367.16 445.95 366.08 447.61 364.96C449.28 363.85 450.92 362.70 452.55 361.53C454.18 360.37 455.79 359.18 457.38 357.95C458.97 356.73 460.54 355.49 462.07 354.20C463.61 352.91 465.11 351.58 466.58 350.21C468.04 348.85 469.47 347.43 470.86 346.00C472.26 344.56 473.61 343.08 474.94 341.58C476.28 340.09 477.57 338.56 478.85 337.02C480.14 335.48 481.39 333.91 482.63 332.34C483.87 330.76 485.09 329.17 486.31 327.58C487.52 325.99 488.72 324.38 489.91 322.77C491.11 321.16 492.29 319.55 493.47 317.92C494.65 316.30 495.83 314.68 496.98 313.04C498.14 311.41 499.29 309.77 500.42 308.11C501.54 306.45 502.65 304.78 503.74 303.10C504.82 301.41 505.88 299.71 506.92 298.00C507.96 296.28 508.97 294.55 509.97 292.82C510.97 291.08 511.94 289.32 512.90 287.57C513.87 285.81 514.81 284.04 515.76 282.28C516.71 280.51 517.66 278.75 518.61 276.98C519.56 275.22 520.51 273.45 521.47 271.69C522.43 269.93 523.39 268.18 524.36 266.42C525.33 264.67 526.31 262.92 527.29 261.17C528.27 259.42 529.25 257.68 530.23 255.93C531.21 254.18 532.20 252.43 533.17 250.68C534.15 248.93 535.12 247.18 536.09 245.42C537.05 243.67 538.01 241.91 538.96 240.14C539.91 238.38 540.85 236.61 541.79 234.84C542.73 233.07 543.66 231.29 544.58 229.51C545.50 227.73 546.41 225.95 547.31 224.16C548.22 222.37 549.11 220.58 550.00 218.78C550.89 216.98 551.77 215.18 552.64 213.38C553.50 211.57 554.36 209.76 555.21 207.94C556.05 206.12 556.88 204.30 557.71 202.48C558.54 200.65 559.36 198.82 560.18 196.99C561.01 195.17 561.84 193.34 562.68 191.53C563.53 189.71 564.39 187.90 565.26 186.09C566.13 184.29 567.01 182.49 567.89 180.69C568.78 178.89 569.68 177.10 570.57 175.31C571.46 173.51 572.36 171.72 573.24 169.92C574.12 168.12 574.99 166.31 575.86 164.51C576.72 162.70 577.56 160.88 578.42 159.07C579.29 157.26 580.15 155.45 581.05 153.66C581.95 151.87 582.87 150.09 583.83 148.33C584.79 146.57 585.78 144.83 586.81 143.11C587.84 141.39 588.90 139.69 590.00 138.02C591.10 136.34 592.25 134.69 593.41 133.06C594.57 131.43 595.77 129.82 596.99 128.23C598.21 126.64 599.45 125.07 600.72 123.51C601.98 121.96 603.27 120.42 604.57 118.90C605.87 117.37 607.19 115.87 608.52 114.37C609.85 112.87 611.20 111.38 612.54 109.89C613.88 108.40 615.23 106.92 616.57 105.43C617.91 103.94 619.25 102.45 620.59 100.96C621.92 99.47 623.26 97.97 624.60 96.48C625.93 94.99 627.27 93.49 628.62 92.01C629.97 90.53 631.32 89.05 632.71 87.60C634.09 86.15 635.49 84.72 636.93 83.32C638.37 81.93 639.83 80.55 641.33 79.23C642.84 77.91 644.38 76.62 645.96 75.39C647.54 74.16 649.16 72.98 650.81 71.84C652.46 70.71 654.15 69.62 655.86 68.58C657.57 67.54 659.32 66.55 661.07 65.58C662.82 64.61 664.61 63.69 666.39 62.78C668.17 61.86 669.96 60.97 671.77 60.09C673.57 59.21 675.37 58.33 677.19 57.49C679.01 56.66 680.84 55.84 682.70 55.08C684.55 54.31 686.42 53.59 688.30 52.91C690.18 52.22 692.08 51.58 693.99 50.96C695.90 50.35 697.82 49.76 699.74 49.21C701.67 48.66 703.60 48.13 705.55 47.64C707.49 47.15 709.44 46.69 711.40 46.27C713.36 45.85 715.33 45.46 717.30 45.10C719.27 44.75 721.25 44.43 723.23 44.13C725.21 43.83 727.20 43.57 729.19 43.32C731.18 43.08 733.17 42.86 735.16 42.66C737.16 42.45 739.15 42.27 741.15 42.10C743.15 41.92 745.14 41.76 747.14 41.62C749.14 41.47 751.14 41.34 753.14 41.22C755.14 41.10 757.14 40.99 759.14 40.90C761.15 40.81 763.15 40.73 765.15 40.66C767.16 40.59 769.16 40.53 771.16 40.48C773.17 40.44 775.17 40.40 777.17 40.37C779.18 40.34 781.18 40.32 783.19 40.30C785.19 40.28 787.19 40.27 789.20 40.27C791.20 40.26 793.21 40.26 795.21 40.25C797.21 40.25 799.22 40.25 801.22 40.24C803.23 40.24 805.23 40.24 807.23 40.23C809.24 40.23 811.24 40.22 813.25 40.21C815.25 40.21 817.26 40.20 819.26 40.18C821.26 40.17 823.27 40.16 825.27 40.14C827.28 40.13 829.28 40.11 831.28 40.09C833.29 40.07 835.29 40.05 837.30 40.03C839.30 40.01 841.30 39.99 843.31 39.97C845.31 39.95 847.32 39.92 849.32 39.90C851.32 39.88 853.33 39.85 855.33 39.83C857.34 39.81 859.34 39.79 861.34 39.76C863.35 39.74 865.35 39.72 867.36 39.70C869.36 39.68 871.36 39.67 873.37 39.65C875.37 39.64 877.38 39.62 879.38 39.61C881.38 39.60 883.39 39.60 885.39 39.59C887.40 39.59 889.40 39.59 891.40 39.59C893.41 39.60 895.41 39.61 897.42 39.62C899.42 39.63 901.43 39.64 903.43 39.66C905.43 39.67 907.44 39.69 909.44 39.70C911.45 39.71 913.45 39.73 915.45 39.73C917.46 39.74 919.46 39.74 921.47 39.73C923.47 39.73 925.47 39.72 927.48 39.70C929.48 39.68 931.49 39.65 933.49 39.62C935.49 39.59 937.50 39.55 939.50 39.51C941.51 39.47 943.51 39.42 945.51 39.38C947.52 39.33 949.52 39.28 951.52 39.23C953.53 39.18 955.53 39.13 957.53 39.08C959.54 39.03 961.54 38.98 963.54 38.93C965.55 38.89 967.55 38.84 969.56 38.80C971.56 38.76 973.56 38.73 975.57 38.69C977.57 38.66 979.57 38.63 981.58 38.60C983.58 38.58 985.59 38.55 987.59 38.53C989.59 38.51 991.60 38.50 993.60 38.48C995.61 38.47 997.61 38.46 999.61 38.45C1001.62 38.44 1003.62 38.44 1005.63 38.44C1007.63 38.44 1009.64 38.44 1011.64 38.44C1013.64 38.44 1015.65 38.45 1017.65 38.46C1019.66 38.46 1021.66 38.47 1023.66 38.48C1025.67 38.49 1027.67 38.50 1029.68 38.52C1031.68 38.53 1033.68 38.54 1035.69 38.56C1037.69 38.57 1040.70 38.59 1041.70 38.60" stroke="#54AF46"/></g><line x1="102.2" y1="395.4" x2="1041.8" y2="395.4" stroke="#555" stroke-width="1.6"/><g font-family="Liberation Sans, sans-serif" font-size="23.5" fill="#111"><text x="88" y="402.90" text-anchor="end">0</text><text x="88" y="364.57" text-anchor="end">10</text><text x="88" y="326.74" text-anchor="end">20</text><text x="88" y="289.21" text-anchor="end">30</text><text x="88" y="251.58" text-anchor="end">40</text><text x="88" y="213.65" text-anchor="end">50</text><text x="88" y="175.92" text-anchor="end">60</text><text x="88" y="138.39" text-anchor="end">70</text><text x="88" y="100.76" text-anchor="end">80</text><text x="88" y="63.03" text-anchor="end">90</text><text x="88" y="25.20" text-anchor="end">100</text><text x="104.2" y="425" text-anchor="middle">0</text><text x="238.1" y="425" text-anchor="middle">2</text><text x="372.5" y="425" text-anchor="middle">4</text><text x="506.8" y="425" text-anchor="middle">6</text><text x="640.3" y="425" text-anchor="middle">8</text><text x="775.7" y="425" text-anchor="middle">10</text><text x="909.9" y="425" text-anchor="middle">12</text><text x="1043.3" y="425" text-anchor="middle">14</text></g><g font-family="Liberation Sans, sans-serif" font-size="23.5" fill="#111"><text x="474.3" y="454.8" textLength="192.7" lengthAdjust="spacingAndGlyphs">Days After Planting</text><text transform="translate(32.8,392) rotate(-90)" x="0" y="0" textLength="355.6" lengthAdjust="spacingAndGlyphs">Cumulative Emergence or AWC (%)</text></g><g font-family="Liberation Sans, sans-serif" font-size="22" fill="#111" stroke="#111" stroke-width="0.45"><text x="1072" y="48.8" textLength="72" lengthAdjust="spacingAndGlyphs">Crosby</text><text x="1072.5" y="177.5" textLength="86" lengthAdjust="spacingAndGlyphs">Kokomo</text><text x="1073" y="306" textLength="113" lengthAdjust="spacingAndGlyphs">Emergence</text><text x="1073" y="364.5" textLength="50" lengthAdjust="spacingAndGlyphs">AWC</text></g><g font-family="Liberation Sans, sans-serif" font-size="19" fill="#111"><text x="1072" y="72.1">1&#8243;</text><text x="1072" y="94.9">2&#8243;</text><text x="1072" y="121.0">3&#8243;</text><text x="1072" y="201.5">1&#8243;</text><text x="1072" y="225.5">2&#8243;</text><text x="1072" y="250.5">3&#8243;</text></g><g stroke-width="4.6" stroke-linecap="round"><line x1="1097.3" y1="67.9" x2="1162" y2="67.9" stroke="#A64B12"/><line x1="1097.3" y1="93.1" x2="1162" y2="93.1" stroke="#C47C18"/><line x1="1097.3" y1="117.1" x2="1162" y2="117.1" stroke="#DCDA26"/><line x1="1098.3" y1="197.6" x2="1162" y2="197.6" stroke="#0D6E88"/><line x1="1098.3" y1="223.3" x2="1162" y2="223.3" stroke="#63B8DD"/><line x1="1098.3" y1="247.1" x2="1162" y2="247.1" stroke="#54AF46"/><line x1="1076.5" y1="325.6" x2="1161.5" y2="325.6" stroke="#707070" stroke-width="5"/><path d="M1076.3 380.8 H1160" stroke="#707070" stroke-width="5" stroke-dasharray="9.7 10.05 0 10.0"/></g>
</svg></body></html>
